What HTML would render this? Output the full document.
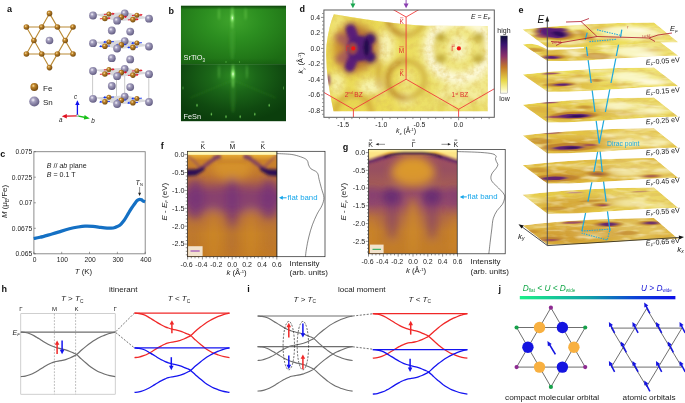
<!DOCTYPE html>
<html><head><meta charset="utf-8"><title>Figure</title>
<style>
html,body{margin:0;padding:0;background:#fff;}
body{width:685px;height:403px;overflow:hidden;font-family:"Liberation Sans",sans-serif;}
svg{display:block;}
svg text{font-family:"Liberation Sans",sans-serif;}
.lb{font-weight:bold;font-size:9px;fill:#111;}
.i{font-style:italic;}
</style></head><body>
<svg width="685" height="403" viewBox="0 0 685 403">
<rect width="685" height="403" fill="#fff"/>
<defs>
<radialGradient id="gFe" cx="0.38" cy="0.35" r="0.7"><stop offset="0" stop-color="#fbe6ae"/><stop offset="0.3" stop-color="#c0852a"/><stop offset="1" stop-color="#6c440c"/></radialGradient>
<radialGradient id="gSn" cx="0.38" cy="0.35" r="0.7"><stop offset="0" stop-color="#f6f4fb"/><stop offset="0.3" stop-color="#a5a0bf"/><stop offset="1" stop-color="#5e587e"/></radialGradient>
</defs>
<g id="panelA">
<text class="lb" x="7" y="11.6">a</text>
<g stroke-linecap="round">
<line x1="49.5" y1="13.4" x2="26.4" y2="54.0" stroke="#b98a35" stroke-width="1.10"/>
<line x1="49.5" y1="13.4" x2="73.0" y2="54.0" stroke="#b98a35" stroke-width="1.10"/>
<line x1="26.4" y1="54.0" x2="73.0" y2="54.0" stroke="#b98a35" stroke-width="1.10"/>
<line x1="49.5" y1="67.6" x2="26.4" y2="27.0" stroke="#b98a35" stroke-width="1.10"/>
<line x1="49.5" y1="67.6" x2="73.0" y2="27.0" stroke="#b98a35" stroke-width="1.10"/>
<line x1="26.4" y1="27.0" x2="73.0" y2="27.0" stroke="#b98a35" stroke-width="1.10"/>
</g>
<circle cx="49.5" cy="13.4" r="2.8" fill="url(#gFe)"/>
<circle cx="49.5" cy="67.6" r="2.8" fill="url(#gFe)"/>
<circle cx="26.4" cy="27.0" r="2.8" fill="url(#gFe)"/>
<circle cx="41.7" cy="27.0" r="2.8" fill="url(#gFe)"/>
<circle cx="57.4" cy="27.0" r="2.8" fill="url(#gFe)"/>
<circle cx="73.0" cy="27.0" r="2.8" fill="url(#gFe)"/>
<circle cx="26.4" cy="54.0" r="2.8" fill="url(#gFe)"/>
<circle cx="41.7" cy="54.0" r="2.8" fill="url(#gFe)"/>
<circle cx="57.4" cy="54.0" r="2.8" fill="url(#gFe)"/>
<circle cx="73.0" cy="54.0" r="2.8" fill="url(#gFe)"/>
<circle cx="33.9" cy="40.5" r="2.8" fill="url(#gFe)"/>
<circle cx="65.2" cy="40.5" r="2.8" fill="url(#gFe)"/>
<circle cx="49.5" cy="40.5" r="3.8" fill="url(#gSn)"/>
<circle cx="34.3" cy="87" r="3.9" fill="url(#gFe)"/>
<circle cx="34.3" cy="101.5" r="5.1" fill="url(#gSn)"/>
<text x="43" y="90.7" font-size="8" fill="#222">Fe</text>
<text x="43" y="105.2" font-size="8" fill="#222">Sn</text>
<g stroke-width="1.3" stroke-linecap="butt">
<line x1="77.4" y1="115.8" x2="77.4" y2="104" stroke="#1010ee"/><polygon points="77.4,100.2 75.2,105 79.6,105" fill="#1010ee"/>
<line x1="77.4" y1="115.8" x2="66" y2="116.1" stroke="#e01020"/><polygon points="61.8,116.2 66.8,114 66.8,118.4" fill="#e01020"/>
<line x1="77.4" y1="115.8" x2="85.5" y2="117.5" stroke="#18c018"/><polygon points="89.8,118.4 84.6,115.1 83.8,119.5" fill="#18c018"/>
</g>
<rect x="76.4" y="114.8" width="2" height="2" fill="#ddd" stroke="#888" stroke-width="0.3"/>
<text class="i" x="74" y="98.5" font-size="6.3" fill="#222">c</text>
<text class="i" x="59" y="122.3" font-size="6.3" fill="#222">a</text>
<text class="i" x="91.2" y="123" font-size="6.3" fill="#222">b</text>
<line x1="92.6" y1="71.5" x2="92.6" y2="98.5" stroke="#7a7a7a" stroke-width="0.4"/>
<line x1="116.5" y1="76.0" x2="116.5" y2="104.0" stroke="#7a7a7a" stroke-width="0.4"/>
<line x1="124.7" y1="69.0" x2="124.7" y2="96.5" stroke="#7a7a7a" stroke-width="0.4"/>
<line x1="148.8" y1="74.0" x2="148.8" y2="102.0" stroke="#7a7a7a" stroke-width="0.4"/>
<polygon points="94.0,14.3 126.0,12.0 150.0,18.0 117.0,21.5" fill="#d9d9dc"/>
<circle cx="124.7" cy="13.3" r="3.8" fill="url(#gSn)"/>
<line x1="103.9" y1="14.4" x2="113.1" y2="13.8" stroke="#e01020" stroke-width="0.9"/>
<polygon points="114.7,13.7 112.5,12.6 112.5,15.2" fill="#e01020"/>
<line x1="99.9" y1="18.8" x2="109.1" y2="18.2" stroke="#e01020" stroke-width="0.9"/>
<polygon points="110.7,18.1 108.5,17.0 108.5,19.6" fill="#e01020"/>
<line x1="116.3" y1="17.4" x2="125.5" y2="16.8" stroke="#e01020" stroke-width="0.9"/>
<polygon points="127.1,16.7 124.9,15.6 124.9,18.2" fill="#e01020"/>
<line x1="131.9" y1="15.5" x2="141.1" y2="14.9" stroke="#e01020" stroke-width="0.9"/>
<polygon points="142.7,14.8 140.5,13.7 140.5,16.3" fill="#e01020"/>
<line x1="127.9" y1="19.9" x2="137.1" y2="19.3" stroke="#e01020" stroke-width="0.9"/>
<polygon points="138.7,19.2 136.5,18.1 136.5,20.7" fill="#e01020"/>
<circle cx="108.9" cy="14.1" r="2.5" fill="url(#gFe)"/>
<circle cx="136.9" cy="15.2" r="2.5" fill="url(#gFe)"/>
<circle cx="93.0" cy="15.5" r="3.9" fill="url(#gSn)"/>
<circle cx="149.0" cy="18.7" r="3.9" fill="url(#gSn)"/>
<circle cx="121.3" cy="17.1" r="2.8" fill="url(#gFe)"/>
<circle cx="104.9" cy="18.5" r="2.8" fill="url(#gFe)"/>
<circle cx="132.9" cy="19.6" r="2.8" fill="url(#gFe)"/>
<circle cx="117.1" cy="20.7" r="3.9" fill="url(#gSn)"/>
<circle cx="111.8" cy="30.5" r="3.9" fill="url(#gSn)"/>
<circle cx="130.2" cy="31.6" r="3.9" fill="url(#gSn)"/>
<polygon points="94.0,42.0 126.0,39.8 150.0,45.8 117.0,49.2" fill="#d9d9dc"/>
<circle cx="124.7" cy="41.0" r="3.8" fill="url(#gSn)"/>
<line x1="113.9" y1="41.6" x2="104.7" y2="42.1" stroke="#1030ee" stroke-width="0.9"/>
<polygon points="103.1,42.2 105.3,40.4 105.3,43.0" fill="#1030ee"/>
<line x1="109.9" y1="46.0" x2="100.7" y2="46.5" stroke="#1030ee" stroke-width="0.9"/>
<polygon points="99.1,46.6 101.3,44.8 101.3,47.4" fill="#1030ee"/>
<line x1="126.3" y1="44.6" x2="117.1" y2="45.1" stroke="#1030ee" stroke-width="0.9"/>
<polygon points="115.5,45.2 117.7,43.4 117.7,46.0" fill="#1030ee"/>
<line x1="141.9" y1="42.7" x2="132.7" y2="43.2" stroke="#1030ee" stroke-width="0.9"/>
<polygon points="131.1,43.4 133.3,41.5 133.3,44.1" fill="#1030ee"/>
<line x1="137.9" y1="47.1" x2="128.7" y2="47.6" stroke="#1030ee" stroke-width="0.9"/>
<polygon points="127.1,47.8 129.3,45.9 129.3,48.5" fill="#1030ee"/>
<circle cx="108.9" cy="41.9" r="2.5" fill="url(#gFe)"/>
<circle cx="136.9" cy="43.0" r="2.5" fill="url(#gFe)"/>
<circle cx="93.0" cy="43.2" r="3.9" fill="url(#gSn)"/>
<circle cx="149.0" cy="46.5" r="3.9" fill="url(#gSn)"/>
<circle cx="121.3" cy="44.9" r="2.8" fill="url(#gFe)"/>
<circle cx="104.9" cy="46.2" r="2.8" fill="url(#gFe)"/>
<circle cx="132.9" cy="47.4" r="2.8" fill="url(#gFe)"/>
<circle cx="117.1" cy="48.5" r="3.9" fill="url(#gSn)"/>
<circle cx="111.8" cy="58.2" r="3.9" fill="url(#gSn)"/>
<circle cx="130.2" cy="59.4" r="3.9" fill="url(#gSn)"/>
<polygon points="94.0,69.8 126.0,67.5 150.0,73.5 117.0,77.0" fill="#d9d9dc"/>
<circle cx="124.7" cy="68.8" r="3.8" fill="url(#gSn)"/>
<line x1="103.9" y1="69.9" x2="113.1" y2="69.3" stroke="#e01020" stroke-width="0.9"/>
<polygon points="114.7,69.2 112.5,68.1 112.5,70.7" fill="#e01020"/>
<line x1="99.9" y1="74.3" x2="109.1" y2="73.7" stroke="#e01020" stroke-width="0.9"/>
<polygon points="110.7,73.6 108.5,72.5 108.5,75.1" fill="#e01020"/>
<line x1="116.3" y1="72.9" x2="125.5" y2="72.3" stroke="#e01020" stroke-width="0.9"/>
<polygon points="127.1,72.2 124.9,71.1 124.9,73.7" fill="#e01020"/>
<line x1="131.9" y1="71.0" x2="141.1" y2="70.4" stroke="#e01020" stroke-width="0.9"/>
<polygon points="142.7,70.3 140.5,69.2 140.5,71.8" fill="#e01020"/>
<line x1="127.9" y1="75.4" x2="137.1" y2="74.8" stroke="#e01020" stroke-width="0.9"/>
<polygon points="138.7,74.7 136.5,73.6 136.5,76.2" fill="#e01020"/>
<circle cx="108.9" cy="69.6" r="2.5" fill="url(#gFe)"/>
<circle cx="136.9" cy="70.7" r="2.5" fill="url(#gFe)"/>
<circle cx="93.0" cy="71.0" r="3.9" fill="url(#gSn)"/>
<circle cx="149.0" cy="74.2" r="3.9" fill="url(#gSn)"/>
<circle cx="121.3" cy="72.6" r="2.8" fill="url(#gFe)"/>
<circle cx="104.9" cy="74.0" r="2.8" fill="url(#gFe)"/>
<circle cx="132.9" cy="75.1" r="2.8" fill="url(#gFe)"/>
<circle cx="117.1" cy="76.2" r="3.9" fill="url(#gSn)"/>
<circle cx="111.8" cy="86.0" r="3.9" fill="url(#gSn)"/>
<circle cx="130.2" cy="87.1" r="3.9" fill="url(#gSn)"/>
<polygon points="94.0,97.5 126.0,95.2 150.0,101.2 117.0,104.8" fill="#d9d9dc"/>
<circle cx="124.7" cy="96.5" r="3.8" fill="url(#gSn)"/>
<line x1="113.9" y1="97.0" x2="104.7" y2="97.6" stroke="#1030ee" stroke-width="0.9"/>
<polygon points="103.1,97.8 105.3,95.8 105.3,98.4" fill="#1030ee"/>
<line x1="109.9" y1="101.5" x2="100.7" y2="102.0" stroke="#1030ee" stroke-width="0.9"/>
<polygon points="99.1,102.2 101.3,100.2 101.3,102.8" fill="#1030ee"/>
<line x1="126.3" y1="100.0" x2="117.1" y2="100.6" stroke="#1030ee" stroke-width="0.9"/>
<polygon points="115.5,100.8 117.7,98.8 117.7,101.4" fill="#1030ee"/>
<line x1="141.9" y1="98.2" x2="132.7" y2="98.8" stroke="#1030ee" stroke-width="0.9"/>
<polygon points="131.1,98.9 133.3,97.0 133.3,99.5" fill="#1030ee"/>
<line x1="137.9" y1="102.5" x2="128.7" y2="103.1" stroke="#1030ee" stroke-width="0.9"/>
<polygon points="127.1,103.2 129.3,101.3 129.3,103.9" fill="#1030ee"/>
<circle cx="108.9" cy="97.3" r="2.5" fill="url(#gFe)"/>
<circle cx="136.9" cy="98.5" r="2.5" fill="url(#gFe)"/>
<circle cx="93.0" cy="98.8" r="3.9" fill="url(#gSn)"/>
<circle cx="149.0" cy="102.0" r="3.9" fill="url(#gSn)"/>
<circle cx="121.3" cy="100.3" r="2.8" fill="url(#gFe)"/>
<circle cx="104.9" cy="101.8" r="2.8" fill="url(#gFe)"/>
<circle cx="132.9" cy="102.8" r="2.8" fill="url(#gFe)"/>
<circle cx="117.1" cy="104.0" r="3.9" fill="url(#gSn)"/>
</g>
<defs>
<radialGradient id="bTop" gradientUnits="userSpaceOnUse" cx="232.5" cy="20" r="62" gradientTransform="translate(232.5 20) scale(1.15 0.8) translate(-232.5 -20)"><stop offset="0" stop-color="#3fa42c"/><stop offset="0.4" stop-color="#2c8e20"/><stop offset="1" stop-color="#1c6c14"/></radialGradient>
<radialGradient id="bBot" gradientUnits="userSpaceOnUse" cx="233" cy="76" r="62" gradientTransform="translate(233 76) scale(1.1 0.75) translate(-233 -76)"><stop offset="0" stop-color="#2c8822"/><stop offset="0.35" stop-color="#1b6618"/><stop offset="0.75" stop-color="#104a10"/><stop offset="1" stop-color="#0b3e0c"/></radialGradient>
<radialGradient id="bSpot"><stop offset="0" stop-color="#f4fff0" stop-opacity="1"/><stop offset="0.3" stop-color="#9cf080" stop-opacity="0.9"/><stop offset="1" stop-color="#50c040" stop-opacity="0"/></radialGradient>
<radialGradient id="bSpot2"><stop offset="0" stop-color="#8fe070" stop-opacity="0.9"/><stop offset="1" stop-color="#50c040" stop-opacity="0"/></radialGradient>
<linearGradient id="bTopShade" x1="0" y1="0" x2="0" y2="1"><stop offset="0" stop-color="#062806" stop-opacity="0.75"/><stop offset="0.07" stop-color="#0a3a08" stop-opacity="0"/><stop offset="0.9" stop-color="#0a3a08" stop-opacity="0"/><stop offset="1" stop-color="#0a3a08" stop-opacity="0.2"/></linearGradient>
<clipPath id="bClip"><rect x="180.8" y="5.6" width="105.2" height="115.8"/></clipPath>
<filter id="blur1" x="-50%" y="-50%" width="200%" height="200%"><feGaussianBlur stdDeviation="0.8"/></filter>
<filter id="blur2" x="-50%" y="-50%" width="200%" height="200%"><feGaussianBlur stdDeviation="1.6"/></filter>
</defs>
<g id="panelB">
<text class="lb" x="168.4" y="13.6">b</text>
<g clip-path="url(#bClip)">
<rect x="180.8" y="5.6" width="105.2" height="58.5" fill="url(#bTop)"/>
<rect x="180.8" y="5.6" width="105.2" height="58.5" fill="url(#bTopShade)"/>
<rect x="180.8" y="64.1" width="105.2" height="57.3" fill="url(#bBot)"/>
<g filter="url(#blur1)">
<ellipse cx="232.3" cy="18" rx="1.4" ry="11" fill="#7fe060" opacity="0.8"/>
<ellipse cx="219" cy="14" rx="0.9" ry="6" fill="#6fd050" opacity="0.6"/>
<ellipse cx="245.6" cy="14" rx="0.9" ry="6" fill="#6fd050" opacity="0.6"/>
<ellipse cx="232.3" cy="40" rx="2.5" ry="20" fill="#4fb038" opacity="0.35"/>
</g>
<ellipse cx="232.3" cy="18" rx="2.8" ry="6" fill="url(#bSpot)"/>
<ellipse cx="226" cy="62" rx="1.2" ry="1" fill="url(#bSpot2)"/><ellipse cx="239.5" cy="62" rx="1.2" ry="1" fill="url(#bSpot2)"/>
<g filter="url(#blur1)">
<ellipse cx="233" cy="76" rx="1.5" ry="12" fill="#7fe060" opacity="0.75"/>
<ellipse cx="219" cy="72" rx="0.9" ry="7" fill="#5fc048" opacity="0.55"/>
<ellipse cx="246.9" cy="72" rx="0.9" ry="7" fill="#5fc048" opacity="0.55"/>
<path d="M233 80 L190 98 M233 80 L276 98" stroke="#3f9a30" stroke-width="1.2" opacity="0.28" fill="none"/>
<ellipse cx="233" cy="95" rx="2.5" ry="18" fill="#3f9a30" opacity="0.3"/>
</g>
<ellipse cx="233" cy="74" rx="3" ry="6.5" fill="url(#bSpot)"/>
<ellipse cx="197.0" cy="105.3" rx="1.3" ry="2.2" fill="url(#bSpot2)"/>
<ellipse cx="211.4" cy="114.2" rx="1.3" ry="2.2" fill="url(#bSpot2)"/>
<ellipse cx="226.0" cy="116.7" rx="1.3" ry="2.2" fill="url(#bSpot2)"/>
<ellipse cx="240.2" cy="116.7" rx="1.3" ry="2.2" fill="url(#bSpot2)"/>
<ellipse cx="254.8" cy="114.2" rx="1.3" ry="2.2" fill="url(#bSpot2)"/>
<ellipse cx="269.2" cy="105.3" rx="1.3" ry="2.2" fill="url(#bSpot2)"/>
<ellipse cx="183" cy="88" rx="1" ry="2.5" fill="url(#bSpot2)" opacity="0.6"/><ellipse cx="283.5" cy="88" rx="1" ry="2.5" fill="url(#bSpot2)" opacity="0.6"/>
</g>
<text x="183.6" y="60" font-size="7.3" fill="#f4f4f4">SrTiO<tspan font-size="4.5" dy="1.6">3</tspan></text>
<text x="183.6" y="119" font-size="7.3" fill="#f4f4f4">FeSn</text>
</g>
<g id="panelC">
<text class="lb" x="0.2" y="157.4">c</text>
<rect x="33.9" y="151.7" width="111.3" height="102.1" fill="#fff" stroke="#808080" stroke-width="0.9"/>
<path d="M33.9,151.7h2M33.9,253.8v-2M33.9,177.2h2M61.7,253.8v-2M33.9,202.8h2M89.5,253.8v-2M33.9,228.3h2M117.4,253.8v-2M33.9,253.8h2M145.2,253.8v-2" stroke="#444" stroke-width="0.5" fill="none"/>
<text x="32.3" y="154.1" font-size="6.7" text-anchor="end" fill="#222">0.075</text>
<text x="32.3" y="179.6" font-size="6.7" text-anchor="end" fill="#222">0.0725</text>
<text x="32.3" y="205.2" font-size="6.7" text-anchor="end" fill="#222">0.07</text>
<text x="32.3" y="230.7" font-size="6.7" text-anchor="end" fill="#222">0.0675</text>
<text x="32.3" y="256.2" font-size="6.7" text-anchor="end" fill="#222">0.065</text>
<text x="34.5" y="262.4" font-size="6.7" text-anchor="middle" fill="#222">0</text>
<text x="62.3" y="262.4" font-size="6.7" text-anchor="middle" fill="#222">100</text>
<text x="90.1" y="262.4" font-size="6.7" text-anchor="middle" fill="#222">200</text>
<text x="118.0" y="262.4" font-size="6.7" text-anchor="middle" fill="#222">300</text>
<text x="145.8" y="262.4" font-size="6.7" text-anchor="middle" fill="#222">400</text>
<text x="83.5" y="274" font-size="7.8" text-anchor="middle" fill="#222"><tspan class="i">T</tspan> (K)</text>
<text transform="translate(7.2,201.5) rotate(-90)" font-size="7.9" text-anchor="middle" fill="#222"><tspan class="i">M</tspan> (μ<tspan font-size="4.6" dy="1.5">B</tspan><tspan dy="-1.5">/Fe)</tspan></text>
<text x="46.8" y="167.6" font-size="7.1" fill="#222"><tspan class="i">B</tspan> // <tspan class="i">ab</tspan> plane</text>
<text x="46.8" y="176.5" font-size="7.1" fill="#222"><tspan class="i">B</tspan> = 0.1 T</text>
<path d="M33.7,238.5C34.8,238.3 37.0,238.1 40.0,237.3C43.0,236.6 48.7,234.9 52.0,234.0C55.3,233.1 57.1,232.5 60.0,231.6C62.9,230.7 66.4,229.6 69.4,228.8C72.4,228.0 75.4,227.4 78.0,227.0C80.6,226.6 82.5,226.3 85.0,226.2C87.5,226.1 90.4,226.2 93.0,226.4C95.6,226.6 98.4,227.1 100.7,227.4C103.0,227.7 105.3,228.0 107.0,228.1C108.7,228.2 109.7,228.2 111.0,228.1C112.3,228.0 113.5,227.9 115.0,227.4C116.5,226.9 118.3,226.5 119.8,225.3C121.3,224.2 122.5,222.5 124.0,220.5C125.5,218.5 127.2,215.3 128.5,213.1C129.8,210.9 130.8,209.2 132.0,207.5C133.2,205.8 134.5,203.9 135.4,202.7C136.3,201.5 136.8,200.9 137.5,200.3C138.2,199.7 138.9,199.4 139.6,199.3C140.3,199.2 140.9,199.5 141.5,199.8C142.1,200.1 142.4,200.7 143.0,201.0C143.6,201.3 144.8,201.6 145.1,201.7" stroke="#1470c4" stroke-width="3.2" fill="none" stroke-linecap="butt"/>
<text x="135.6" y="184.6" font-size="7" fill="#222"><tspan class="i">T</tspan><tspan font-size="4" dy="1.4">N</tspan></text>
<line x1="139.6" y1="187" x2="139.6" y2="194" stroke="#222" stroke-width="0.5"/><polygon points="139.6,196 138.1,192.8 141.1,192.8" fill="#222"/>
</g>
<defs>
<clipPath id="dClip"><path d="M333.9,14.2 Q329,25 326.5,45 Q324.5,70 333.5,111.2 L487.7,111.2 L487.7,25.9 L425,25.7 Q395,24.5 333.9,14.2 Z"/></clipPath>
<clipPath id="dBox"><rect x="323.9" y="10" width="170.4" height="107.3"/></clipPath>
<filter id="dB1" x="-30%" y="-30%" width="160%" height="160%"><feGaussianBlur stdDeviation="1.6"/></filter>
<filter id="dB2" x="-30%" y="-30%" width="160%" height="160%"><feGaussianBlur stdDeviation="2.5"/></filter>
<filter id="dB4" x="-30%" y="-30%" width="160%" height="160%"><feGaussianBlur stdDeviation="4.5"/></filter>
<filter id="dNoise" x="0" y="0" width="100%" height="100%"><feTurbulence type="fractalNoise" baseFrequency="0.16" numOctaves="3" seed="11"/><feColorMatrix type="matrix" values="0 0 0 0 0.72  0 0 0 0 0.52  0 0 0 0 0.1  0 0 0 2.2 -0.95"/></filter>
<linearGradient id="cbar" x1="0" y1="0" x2="0" y2="1"><stop offset="0" stop-color="#0c0c38"/><stop offset="0.15" stop-color="#3a1470"/><stop offset="0.35" stop-color="#8a2f6a"/><stop offset="0.55" stop-color="#c47a28"/><stop offset="0.78" stop-color="#e8d848"/><stop offset="0.92" stop-color="#f8f4a8"/><stop offset="1" stop-color="#fffff0"/></linearGradient>
<linearGradient id="dBase" x1="0" y1="0" x2="1" y2="0"><stop offset="0" stop-color="#e9d74e"/><stop offset="0.45" stop-color="#ebdb58"/><stop offset="0.62" stop-color="#ece068"/><stop offset="1" stop-color="#ede270"/></linearGradient>
</defs>
<g id="panelD">
<text class="lb" x="299.5" y="11.6">d</text>
<g clip-path="url(#dClip)">
<rect x="320" y="10" width="170" height="105" fill="url(#dBase)"/>
<g filter="url(#dB4)">
<circle cx="459" cy="49" r="29.5" fill="none" stroke="#fffde6" stroke-width="12" opacity="1"/>
<ellipse cx="459" cy="48" rx="11" ry="14" fill="#faf7c8" opacity="0.9"/>
<ellipse cx="459" cy="96" rx="24" ry="9" fill="#f8f3b4" opacity="0.8"/>
<ellipse cx="484" cy="90" rx="6" ry="14" fill="#f3eb98" opacity="0.7"/>
<ellipse cx="372" cy="87" rx="15" ry="8" fill="#f8f4b4"/>
<ellipse cx="337" cy="84" rx="7" ry="13" fill="#f7f2ac"/>
<ellipse cx="386" cy="47" rx="8" ry="17" fill="#f9f5bc"/>
<ellipse cx="338" cy="23" rx="7" ry="7" fill="#f6f0a4"/>
<ellipse cx="406" cy="99" rx="9" ry="6" fill="#f8f3b0"/>
<ellipse cx="406" cy="30" rx="5" ry="4" fill="#f8f3b0" opacity="0.8"/>
<ellipse cx="406" cy="79" rx="7" ry="7" fill="#f4eca0" opacity="0.8"/>
<ellipse cx="335" cy="30" rx="8" ry="12" fill="#f0e474"/>
</g>
<g filter="url(#dB2)" fill="none">
<path d="M406.1,61.1 A18.5,18.5 0 0 0 406.1,98.1" stroke="#b8822a" stroke-width="5" opacity="0.9"/>
<path d="M406.1,61.1 A18.5,18.5 0 0 1 406.1,98.1" stroke="#c8a434" stroke-width="4.5" opacity="0.8"/>
<path d="M406.1,-2.0 A18.5,18.5 0 0 0 406.1,35.0" stroke="#b8822a" stroke-width="5" opacity="0.9"/>
<path d="M406.1,-2.0 A18.5,18.5 0 0 1 406.1,35.0" stroke="#c8a434" stroke-width="4.5" opacity="0.8"/>
<circle cx="353.4" cy="113" r="18" stroke="#c8962c" stroke-width="4.5" opacity="0.75"/>
<circle cx="458.6" cy="114" r="18" stroke="#d8c040" stroke-width="4" opacity="0.6"/>
<path d="M380,62 Q376,75 381,88" stroke="#c08c2c" stroke-width="5" opacity="0.6"/>
<path d="M388,86 Q380,98 362,101" stroke="#d4ae38" stroke-width="3.5" opacity="0.5"/>
<path d="M424,90 Q432,101 445,105" stroke="#dcc448" stroke-width="3.5" opacity="0.55"/>
</g>
<rect x="322" y="10" width="168" height="104" filter="url(#dNoise)" opacity="0.55"/>
<g filter="url(#dB4)">
<ellipse cx="354" cy="48" rx="21" ry="25" fill="#c88a2c" opacity="0.95"/>
<ellipse cx="362" cy="48" rx="16" ry="20" fill="#b06a38" opacity="0.8"/>
</g>
<g filter="url(#dB2)" stroke-linecap="round" fill="none">
<line x1="356" y1="48.4" x2="350.5" y2="28.5" stroke="#5a1c78" stroke-width="10" opacity="0.90"/>
<line x1="356" y1="48.4" x2="371.0" y2="38.5" stroke="#43156c" stroke-width="10" opacity="0.90"/>
<line x1="356" y1="48.4" x2="371.0" y2="57.5" stroke="#43156c" stroke-width="10" opacity="0.90"/>
<line x1="356" y1="48.4" x2="349.5" y2="67.5" stroke="#5a1c78" stroke-width="10" opacity="0.90"/>
<line x1="356" y1="48.4" x2="340.5" y2="38.0" stroke="#9a4868" stroke-width="10" opacity="0.63"/>
<line x1="356" y1="48.4" x2="340.5" y2="59.0" stroke="#9a4868" stroke-width="10" opacity="0.63"/>
</g>
<g filter="url(#dB1)" stroke-linecap="round" fill="none">
<line x1="358" y1="48.4" x2="350.9" y2="30.1" stroke="#5a1c78" stroke-width="8" opacity="1.00"/>
<line x1="358" y1="48.4" x2="369.8" y2="39.3" stroke="#43156c" stroke-width="8" opacity="1.00"/>
<line x1="358" y1="48.4" x2="369.8" y2="56.8" stroke="#43156c" stroke-width="8" opacity="1.00"/>
<line x1="358" y1="48.4" x2="350.0" y2="66.0" stroke="#5a1c78" stroke-width="8" opacity="1.00"/>
<circle cx="359.5" cy="48.4" r="12.5" fill="#521a74"/>
<ellipse cx="366.5" cy="47.5" rx="3.2" ry="9" fill="#1c0c48" opacity="0.9"/>
<ellipse cx="352.5" cy="48.6" rx="5" ry="6" fill="#a8503c" opacity="0.85"/>
<ellipse cx="328.3" cy="80" rx="2" ry="6" fill="#7a2a78" opacity="0.8"/>
</g>
<g filter="url(#dB2)">
<ellipse cx="440.5" cy="37.5" rx="5.5" ry="4.2" fill="#b8a02c" opacity="0.9"/>
<ellipse cx="478.7" cy="37.5" rx="5.5" ry="4.2" fill="#b8a02c" opacity="0.9"/>
<ellipse cx="440.5" cy="58.5" rx="5.5" ry="4.2" fill="#b8a02c" opacity="0.9"/>
<ellipse cx="478.7" cy="58.5" rx="5.5" ry="4.2" fill="#b8a02c" opacity="0.9"/>
<path d="M438,38 Q435,48 438,58 M481,38 Q484,48 481,58" stroke="#d8c444" stroke-width="4" fill="none" opacity="0.7"/>
</g>
</g>
<g clip-path="url(#dBox)" stroke="#f03a3a" stroke-width="0.9" fill="none">
<path d="M353.4,117.3 L353.4,109.3 L300.7,79.2 M353.4,109.3 L406.1,79.2 L406.1,17 L380,2 M406.1,17 L432,2 M406.1,79.2 L458.6,109.3 L458.6,117.3 M458.6,109.3 L511,79.2"/>
</g>
<circle cx="353.3" cy="48.4" r="2.1" fill="#f01414"/><circle cx="458.9" cy="48.4" r="2.1" fill="#f01414"/>
<text x="345.8" y="50.8" font-size="6.5" fill="#e03030">Γ</text><line x1="346.2" y1="45.1" x2="349.6" y2="45.1" stroke="#e03030" stroke-width="0.5"/>
<text x="451.2" y="50.8" font-size="6.5" fill="#e03030">Γ</text><line x1="451.6" y1="45.1" x2="455.0" y2="45.1" stroke="#e03030" stroke-width="0.5"/>
<text x="399.6" y="23.5" font-size="6.5" fill="#e03030">K</text><line x1="400.0" y1="17.8" x2="403.4" y2="17.8" stroke="#e03030" stroke-width="0.5"/>
<text x="398.8" y="52.5" font-size="6.5" fill="#e03030">M</text><line x1="399.2" y1="46.8" x2="403.8" y2="46.8" stroke="#e03030" stroke-width="0.5"/>
<text x="399.6" y="75.5" font-size="6.5" fill="#e03030">K</text><line x1="400.0" y1="69.8" x2="403.4" y2="69.8" stroke="#e03030" stroke-width="0.5"/>
<text x="344.7" y="96.6" font-size="6.5" fill="#e03030">2<tspan font-size="3.8" dy="-2.4">nd</tspan><tspan dy="2.4"> BZ</tspan></text>
<text x="451.6" y="97.2" font-size="6.5" fill="#e03030">1<tspan font-size="3.8" dy="-2.4">st</tspan><tspan dy="2.4"> BZ</tspan></text>
<text x="471" y="18.9" font-size="6.8" fill="#222" class="i">E = E<tspan font-size="4.2" dy="1.5">F</tspan></text>
<rect x="323.9" y="10" width="170.4" height="107.3" fill="none" stroke="#5a5a5a" stroke-width="1"/>
<path d="M323.4,114.3h-1.3M323.4,110.4h-2.4M323.4,106.5h-1.3M323.4,102.6h-1.3M323.4,98.8h-1.3M323.4,94.9h-2.4M323.4,91.0h-1.3M323.4,87.1h-1.3M323.4,83.3h-1.3M323.4,79.4h-2.4M323.4,75.5h-1.3M323.4,71.6h-1.3M323.4,67.8h-1.3M323.4,63.9h-2.4M323.4,60.0h-1.3M323.4,56.1h-1.3M323.4,52.3h-1.3M323.4,48.4h-2.4M323.4,44.5h-1.3M323.4,40.6h-1.3M323.4,36.8h-1.3M323.4,32.9h-2.4M323.4,29.0h-1.3M323.4,25.1h-1.3M323.4,21.3h-1.3M323.4,17.4h-2.4M323.4,13.5h-1.3M329.1,117.8v1.3M336.7,117.8v1.3M344.3,117.8v2.4M351.9,117.8v1.3M359.5,117.8v1.3M367.2,117.8v1.3M374.8,117.8v1.3M382.4,117.8v2.4M390.0,117.8v1.3M397.6,117.8v1.3M405.3,117.8v1.3M412.9,117.8v1.3M420.5,117.8v2.4M428.1,117.8v1.3M435.7,117.8v1.3M443.4,117.8v1.3M451.0,117.8v1.3M458.6,117.8v2.4M466.2,117.8v1.3M473.8,117.8v1.3M481.5,117.8v1.3M489.1,117.8v1.3" stroke="#333" stroke-width="0.55" fill="none"/>
<text x="320.2" y="19.8" font-size="6.9" text-anchor="end" fill="#222">0.4</text>
<text x="320.2" y="35.3" font-size="6.9" text-anchor="end" fill="#222">0.2</text>
<text x="320.2" y="50.8" font-size="6.9" text-anchor="end" fill="#222">0.0</text>
<text x="320.2" y="66.3" font-size="6.9" text-anchor="end" fill="#222">-0.2</text>
<text x="320.2" y="81.8" font-size="6.9" text-anchor="end" fill="#222">-0.4</text>
<text x="320.2" y="97.3" font-size="6.9" text-anchor="end" fill="#222">-0.6</text>
<text x="320.2" y="112.8" font-size="6.9" text-anchor="end" fill="#222">-0.8</text>
<text x="343.2" y="127.4" font-size="6.9" text-anchor="middle" fill="#222">-1.5</text>
<text x="381.3" y="127.4" font-size="6.9" text-anchor="middle" fill="#222">-1.0</text>
<text x="419.4" y="127.4" font-size="6.9" text-anchor="middle" fill="#222">-0.5</text>
<text x="458.6" y="127.4" font-size="6.9" text-anchor="middle" fill="#222">0.0</text>
<text x="406" y="133.3" font-size="6.9" text-anchor="middle" fill="#222"><tspan class="i">k</tspan><tspan font-size="4.3" dy="1.3" class="i">x</tspan><tspan dy="-1.3"> (Å</tspan><tspan font-size="3.8" dy="-2.2">-1</tspan><tspan dy="2.2">)</tspan></text>
<text transform="translate(303.4,62.9) rotate(-90)" font-size="7.3" text-anchor="middle" fill="#222"><tspan class="i">k</tspan><tspan font-size="4.3" dy="1.3" class="i">y</tspan><tspan dy="-1.3"> (Å</tspan><tspan font-size="3.8" dy="-2.2">-1</tspan><tspan dy="2.2">)</tspan></text>
<line x1="352.9" y1="0" x2="352.9" y2="5" stroke="#1aa650" stroke-width="0.9"/><polygon points="352.9,8.2 350.4,3.6 355.4,3.6" fill="#1aa650"/>
<line x1="406.1" y1="0" x2="406.1" y2="5" stroke="#8a3fb0" stroke-width="0.9"/><polygon points="406.1,8.2 403.6,3.6 408.6,3.6" fill="#8a3fb0"/>
<rect x="500.5" y="35.9" width="7" height="57.2" fill="url(#cbar)" stroke="#777" stroke-width="0.4"/>
<text x="497.3" y="32.9" font-size="7" fill="#222">high</text>
<text x="499.2" y="101.3" font-size="7" fill="#222">low</text>
</g>
<defs>
<filter id="eB1" x="-30%" y="-30%" width="160%" height="160%"><feGaussianBlur stdDeviation="0.022"/></filter>
<filter id="eB3" x="-40%" y="-40%" width="180%" height="180%"><feGaussianBlur stdDeviation="0.09"/></filter>
<filter id="eNoise" x="0" y="0" width="100%" height="100%"><feTurbulence type="fractalNoise" baseFrequency="0.07 0.3" numOctaves="3" seed="5"/><feColorMatrix type="matrix" values="0 0 0 0 0.7  0 0 0 0 0.46  0 0 0 0 0.1  0 0 0 2.4 -1.0"/></filter>
<filter id="eNoise2" x="0" y="0" width="100%" height="100%"><feTurbulence type="fractalNoise" baseFrequency="0.06 0.25" numOctaves="2" seed="23"/><feColorMatrix type="matrix" values="0 0 0 0 1  0 0 0 0 0.98  0 0 0 0 0.8  0 0 0 2.4 -1.15"/></filter>
<filter id="eB2" x="-30%" y="-30%" width="160%" height="160%"><feGaussianBlur stdDeviation="0.05"/></filter>
</defs>
<g id="panelE">
<text class="lb" x="518.5" y="13.2" font-size="8.5">e</text>
<clipPath id="eC7"><path d="M522.6,225.4 Q580.3,218.5 654.0,218.0 L678.3,238.9 C630.3,239.3 595.4,245.1 547.4,244.7 Z"/></clipPath>
<g clip-path="url(#eC7)">
<path d="M522.6,225.4 Q580.3,218.5 654.0,218.0 L678.3,238.9 C630.3,239.3 595.4,245.1 547.4,244.7 Z" fill="#dcb23a"/>
<g transform="matrix(131.40,-7.40,24.80,19.30,522.60,225.40)" filter="url(#eB3)">
<ellipse cx="0.2" cy="0.62" rx="0.2" ry="0.42" fill="#cc922e" opacity="0.60"/>
<ellipse cx="0.78" cy="0.5" rx="0.24" ry="0.5" fill="#f9f6c0" opacity="0.25"/>
<ellipse cx="0.5" cy="0.55" rx="0.16" ry="0.35" fill="#c4882c" opacity="0.40"/>
</g>
<rect x="520" y="215.4" width="162" height="34" filter="url(#eNoise)" opacity="0.55"/>
<rect x="520" y="215.4" width="162" height="34" filter="url(#eNoise2)" opacity="0.6"/>
<g transform="matrix(131.40,-7.40,24.80,19.30,522.60,225.40)" filter="url(#eB2)">
<ellipse cx="0.391" cy="0.647" rx="0.088" ry="0.162" fill="#fbf8cc" opacity="0.40"/>
<ellipse cx="0.078" cy="0.087" rx="0.044" ry="0.097" fill="#fbf8cc" opacity="0.50"/>
<ellipse cx="0.878" cy="0.886" rx="0.070" ry="0.130" fill="#d8a634" opacity="0.50"/>
<ellipse cx="0.375" cy="0.330" rx="0.070" ry="0.130" fill="#d8a634" opacity="0.40"/>
</g>
<g transform="matrix(131.40,-7.40,24.80,19.30,522.60,225.40)" filter="url(#eB1)">
<ellipse cx="0.615" cy="0.184" rx="0.105" ry="0.145" fill="#bc7e2a" opacity="0.90"/>
<ellipse cx="0.619" cy="0.185" rx="0.070" ry="0.089" fill="#5a1c78" opacity="0.90"/>
<ellipse cx="0.924" cy="0.240" rx="0.088" ry="0.121" fill="#bc7e2a" opacity="0.80"/>
<ellipse cx="0.933" cy="0.233" rx="0.057" ry="0.073" fill="#5a1c78" opacity="0.80"/>
<ellipse cx="0.383" cy="0.002" rx="0.079" ry="0.057" fill="#8a3070" opacity="0.75"/>
<ellipse cx="0.068" cy="0.731" rx="0.096" ry="0.121" fill="#bc7e2a" opacity="0.80"/>
<ellipse cx="0.068" cy="0.783" rx="0.053" ry="0.061" fill="#8a3070" opacity="0.60"/>
<ellipse cx="0.004" cy="0.318" rx="0.053" ry="0.101" fill="#bc7e2a" opacity="0.60"/>
<ellipse cx="0.677" cy="0.653" rx="0.079" ry="0.101" fill="#bc7e2a" opacity="0.60"/>
</g>
</g>
<path d="M581.9,231.0L587.9,201.6M610.0,231.0L606.2,201.6" stroke="#1fa8dc" stroke-width="1.25" fill="none"/>
<path d="M581.7,231 L610,229.2 L607.3,240 L581.7,233.2" stroke="#1fa8dc" stroke-width="1.1" stroke-dasharray="1.4,1.1" fill="none"/>
<clipPath id="eC6"><path d="M522.6,194.8 Q580.3,187.9 654.0,187.5 L678.3,207.9 C630.3,208.3 595.4,214.1 547.4,213.7 Z"/></clipPath>
<g clip-path="url(#eC6)">
<path d="M522.6,194.8 Q580.3,187.9 654.0,187.5 L678.3,207.9 C630.3,208.3 595.4,214.1 547.4,213.7 Z" fill="#e6cc48"/>
<g transform="matrix(131.40,-7.34,24.80,18.87,522.60,194.80)" filter="url(#eB3)">
<ellipse cx="0.2" cy="0.62" rx="0.2" ry="0.42" fill="#cc922e" opacity="0.57"/>
<ellipse cx="0.78" cy="0.5" rx="0.24" ry="0.5" fill="#f9f6c0" opacity="0.29"/>
<ellipse cx="0.5" cy="0.55" rx="0.16" ry="0.35" fill="#c4882c" opacity="0.39"/>
</g>
<rect x="520" y="184.8" width="162" height="34" filter="url(#eNoise)" opacity="0.55"/>
<rect x="520" y="184.8" width="162" height="34" filter="url(#eNoise2)" opacity="0.6"/>
<g transform="matrix(131.40,-7.34,24.80,18.87,522.60,194.80)" filter="url(#eB2)">
<ellipse cx="0.039" cy="0.291" rx="0.061" ry="0.199" fill="#fbf8cc" opacity="0.50"/>
<ellipse cx="0.685" cy="0.701" rx="0.123" ry="0.199" fill="#fbf8cc" opacity="0.55"/>
<ellipse cx="0.870" cy="0.932" rx="0.070" ry="0.132" fill="#fbf8cc" opacity="0.60"/>
<ellipse cx="0.211" cy="0.994" rx="0.088" ry="0.099" fill="#d8a634" opacity="0.50"/>
</g>
<g transform="matrix(131.40,-7.34,24.80,18.87,522.60,194.80)" filter="url(#eB1)">
<ellipse cx="0.463" cy="0.710" rx="0.061" ry="0.091" fill="#bc7e2a" opacity="0.90"/>
<ellipse cx="0.473" cy="0.735" rx="0.031" ry="0.050" fill="#8a3070" opacity="0.80"/>
<ellipse cx="0.420" cy="0.492" rx="0.079" ry="0.062" fill="#bc7e2a" opacity="0.60"/>
<ellipse cx="0.099" cy="0.765" rx="0.088" ry="0.103" fill="#bc7e2a" opacity="0.60"/>
<ellipse cx="0.392" cy="0.036" rx="0.061" ry="0.041" fill="#8a3070" opacity="0.45"/>
<ellipse cx="0.862" cy="0.166" rx="0.061" ry="0.041" fill="#8a3070" opacity="0.40"/>
</g>
</g>
<path d="M587.9,201.6L593.9,172.0M606.2,201.6L602.3,172.0" stroke="#1fa8dc" stroke-width="1.25" fill="none"/>
<clipPath id="eC5"><path d="M522.6,165.2 Q580.3,158.4 654.0,157.9 L678.3,178.0 C630.3,178.4 595.4,184.0 547.4,183.6 Z"/></clipPath>
<g clip-path="url(#eC5)">
<path d="M522.6,165.2 Q580.3,158.4 654.0,157.9 L678.3,178.0 C630.3,178.4 595.4,184.0 547.4,183.6 Z" fill="#e2c040"/>
<g transform="matrix(131.40,-7.29,24.80,18.44,522.60,165.20)" filter="url(#eB3)">
<ellipse cx="0.2" cy="0.62" rx="0.2" ry="0.42" fill="#cc922e" opacity="0.54"/>
<ellipse cx="0.78" cy="0.5" rx="0.24" ry="0.5" fill="#f9f6c0" opacity="0.34"/>
<ellipse cx="0.5" cy="0.55" rx="0.16" ry="0.35" fill="#c4882c" opacity="0.37"/>
</g>
<rect x="520" y="155.2" width="162" height="34" filter="url(#eNoise)" opacity="0.55"/>
<rect x="520" y="155.2" width="162" height="34" filter="url(#eNoise2)" opacity="0.6"/>
<g transform="matrix(131.40,-7.29,24.80,18.44,522.60,165.20)" filter="url(#eB2)">
<ellipse cx="0.660" cy="0.630" rx="0.105" ry="0.203" fill="#fbf8cc" opacity="0.60"/>
<ellipse cx="0.399" cy="0.201" rx="0.088" ry="0.102" fill="#fbf8cc" opacity="0.45"/>
<ellipse cx="0.953" cy="0.691" rx="0.053" ry="0.136" fill="#fbf8cc" opacity="0.70"/>
<ellipse cx="0.539" cy="1.070" rx="0.088" ry="0.102" fill="#d8a634" opacity="0.50"/>
</g>
<g transform="matrix(131.40,-7.29,24.80,18.44,522.60,165.20)" filter="url(#eB1)">
<ellipse cx="0.115" cy="0.739" rx="0.175" ry="0.190" fill="#bc7e2a" opacity="0.85"/>
<ellipse cx="0.098" cy="0.749" rx="0.096" ry="0.093" fill="#5a1c78" opacity="0.90"/>
<ellipse cx="0.450" cy="0.655" rx="0.044" ry="0.085" fill="#5a1c78" opacity="0.95"/>
<ellipse cx="0.450" cy="0.655" rx="0.079" ry="0.148" fill="#bc7e2a" opacity="0.70"/>
<ellipse cx="0.805" cy="0.914" rx="0.053" ry="0.063" fill="#8a3070" opacity="0.85"/>
<ellipse cx="0.807" cy="0.904" rx="0.088" ry="0.106" fill="#bc7e2a" opacity="0.50"/>
<ellipse cx="0.063" cy="0.285" rx="0.070" ry="0.127" fill="#bc7e2a" opacity="0.50"/>
</g>
</g>
<path d="M593.9,172.0L599.2,143.5M602.3,172.0L599.3,143.5" stroke="#1fa8dc" stroke-width="1.25" fill="none"/>
<clipPath id="eC4"><path d="M522.6,135.4 Q580.3,128.6 654.0,128.2 L678.3,147.8 C630.3,148.2 595.4,153.8 547.4,153.4 Z"/></clipPath>
<g clip-path="url(#eC4)">
<path d="M522.6,135.4 Q580.3,128.6 654.0,128.2 L678.3,147.8 C630.3,148.2 595.4,153.8 547.4,153.4 Z" fill="#e4c444"/>
<g transform="matrix(131.40,-7.23,24.80,18.01,522.60,135.40)" filter="url(#eB3)">
<ellipse cx="0.2" cy="0.62" rx="0.2" ry="0.42" fill="#cc922e" opacity="0.51"/>
<ellipse cx="0.78" cy="0.5" rx="0.24" ry="0.5" fill="#f9f6c0" opacity="0.38"/>
<ellipse cx="0.5" cy="0.55" rx="0.16" ry="0.35" fill="#c4882c" opacity="0.36"/>
</g>
<rect x="520" y="125.4" width="162" height="34" filter="url(#eNoise)" opacity="0.55"/>
<rect x="520" y="125.4" width="162" height="34" filter="url(#eNoise2)" opacity="0.6"/>
<g transform="matrix(131.40,-7.23,24.80,18.01,522.60,135.40)" filter="url(#eB2)">
<ellipse cx="0.670" cy="0.691" rx="0.123" ry="0.208" fill="#fbf8cc" opacity="0.75"/>
<ellipse cx="0.901" cy="0.728" rx="0.070" ry="0.173" fill="#fbf8cc" opacity="0.80"/>
<ellipse cx="0.622" cy="0.227" rx="0.105" ry="0.104" fill="#fbf8cc" opacity="0.50"/>
<ellipse cx="0.688" cy="1.087" rx="0.088" ry="0.104" fill="#d8a634" opacity="0.50"/>
</g>
<g transform="matrix(131.40,-7.23,24.80,18.01,522.60,135.40)" filter="url(#eB1)">
<ellipse cx="0.222" cy="0.733" rx="0.210" ry="0.216" fill="#bc7e2a" opacity="0.85"/>
<ellipse cx="0.201" cy="0.764" rx="0.114" ry="0.104" fill="#5a1c78" opacity="0.95"/>
<ellipse cx="0.229" cy="0.780" rx="0.053" ry="0.056" fill="#2a1058" opacity="0.80"/>
<ellipse cx="0.383" cy="0.687" rx="0.053" ry="0.065" fill="#8a3070" opacity="0.60"/>
<ellipse cx="0.069" cy="0.338" rx="0.079" ry="0.173" fill="#bc7e2a" opacity="0.55"/>
<ellipse cx="0.231" cy="-0.040" rx="0.070" ry="0.052" fill="#8a3070" opacity="0.60"/>
</g>
</g>
<path d="M599.2,143.5L595.0,112.0M599.3,143.5L605.4,112.0" stroke="#1fa8dc" stroke-width="1.25" fill="none"/>
<clipPath id="eC3"><path d="M522.6,104.8 Q580.3,98.0 654.0,97.6 L678.3,116.8 C630.3,117.2 595.4,122.8 547.4,122.4 Z"/></clipPath>
<g clip-path="url(#eC3)">
<path d="M522.6,104.8 Q580.3,98.0 654.0,97.6 L678.3,116.8 C630.3,117.2 595.4,122.8 547.4,122.4 Z" fill="#e8d24c"/>
<g transform="matrix(131.40,-7.17,24.80,17.59,522.60,104.80)" filter="url(#eB3)">
<ellipse cx="0.2" cy="0.62" rx="0.2" ry="0.42" fill="#cc922e" opacity="0.47"/>
<ellipse cx="0.78" cy="0.5" rx="0.24" ry="0.5" fill="#f9f6c0" opacity="0.42"/>
<ellipse cx="0.5" cy="0.55" rx="0.16" ry="0.35" fill="#c4882c" opacity="0.34"/>
</g>
<rect x="520" y="94.8" width="162" height="34" filter="url(#eNoise)" opacity="0.55"/>
<rect x="520" y="94.8" width="162" height="34" filter="url(#eNoise2)" opacity="0.6"/>
<g transform="matrix(131.40,-7.17,24.80,17.59,522.60,104.80)" filter="url(#eB2)">
<ellipse cx="0.053" cy="0.260" rx="0.061" ry="0.213" fill="#d8a634" opacity="0.65"/>
<ellipse cx="0.645" cy="0.331" rx="0.123" ry="0.213" fill="#fbf8cc" opacity="0.85"/>
<ellipse cx="0.853" cy="0.700" rx="0.105" ry="0.178" fill="#fbf8cc" opacity="0.80"/>
<ellipse cx="0.590" cy="-0.004" rx="0.105" ry="0.092" fill="#fbf8cc" opacity="0.60"/>
<ellipse cx="0.667" cy="0.795" rx="0.088" ry="0.107" fill="#d8a634" opacity="0.40"/>
</g>
<g transform="matrix(131.40,-7.17,24.80,17.59,522.60,104.80)" filter="url(#eB1)">
<ellipse cx="0.257" cy="0.713" rx="0.175" ry="0.200" fill="#bc7e2a" opacity="0.90"/>
<ellipse cx="0.252" cy="0.739" rx="0.123" ry="0.115" fill="#5a1c78" opacity="0.95"/>
<ellipse cx="0.271" cy="0.759" rx="0.061" ry="0.067" fill="#2a1058" opacity="0.95"/>
<ellipse cx="0.093" cy="0.732" rx="0.044" ry="0.067" fill="#8a3070" opacity="0.70"/>
<ellipse cx="0.213" cy="-0.038" rx="0.061" ry="0.049" fill="#8a3070" opacity="0.80"/>
<ellipse cx="0.419" cy="0.296" rx="0.053" ry="0.089" fill="#bc7e2a" opacity="0.60"/>
</g>
</g>
<path d="M595.0,112.0L591.2,83.0M605.4,112.0L611.0,83.0" stroke="#1fa8dc" stroke-width="1.25" fill="none"/>
<clipPath id="eC2"><path d="M522.6,74.6 Q580.3,67.8 654.0,67.5 L678.3,86.2 C630.3,86.6 595.4,92.2 547.4,91.8 Z"/></clipPath>
<g clip-path="url(#eC2)">
<path d="M522.6,74.6 Q580.3,67.8 654.0,67.5 L678.3,86.2 C630.3,86.6 595.4,92.2 547.4,91.8 Z" fill="#ecdc56"/>
<g transform="matrix(131.40,-7.11,24.80,17.16,522.60,74.60)" filter="url(#eB3)">
<ellipse cx="0.2" cy="0.62" rx="0.2" ry="0.42" fill="#cc922e" opacity="0.44"/>
<ellipse cx="0.78" cy="0.5" rx="0.24" ry="0.5" fill="#f9f6c0" opacity="0.46"/>
</g>
<rect x="520" y="64.6" width="162" height="34" filter="url(#eNoise)" opacity="0.55"/>
<rect x="520" y="64.6" width="162" height="34" filter="url(#eNoise2)" opacity="0.6"/>
<g transform="matrix(131.40,-7.11,24.80,17.16,522.60,74.60)" filter="url(#eB2)">
<ellipse cx="0.391" cy="0.244" rx="0.088" ry="0.109" fill="#d8a634" opacity="0.50"/>
<ellipse cx="0.029" cy="0.268" rx="0.053" ry="0.219" fill="#d8a634" opacity="0.60"/>
<ellipse cx="0.343" cy="0.457" rx="0.070" ry="0.146" fill="#fbf8cc" opacity="0.80"/>
<ellipse cx="0.725" cy="0.411" rx="0.140" ry="0.255" fill="#fbf8cc" opacity="0.90"/>
<ellipse cx="0.838" cy="0.779" rx="0.105" ry="0.182" fill="#fffde8" opacity="0.85"/>
<ellipse cx="0.546" cy="0.833" rx="0.070" ry="0.109" fill="#d8a634" opacity="0.45"/>
<ellipse cx="0.583" cy="0.032" rx="0.088" ry="0.087" fill="#fbf8cc" opacity="0.70"/>
</g>
<g transform="matrix(131.40,-7.11,24.80,17.16,522.60,74.60)" filter="url(#eB1)">
<ellipse cx="0.163" cy="0.645" rx="0.114" ry="0.118" fill="#bc7e2a" opacity="0.85"/>
<ellipse cx="0.176" cy="0.656" rx="0.066" ry="0.064" fill="#5a1c78" opacity="0.95"/>
<ellipse cx="0.211" cy="0.029" rx="0.061" ry="0.050" fill="#8a3070" opacity="0.80"/>
<ellipse cx="0.460" cy="0.523" rx="0.044" ry="0.091" fill="#bc7e2a" opacity="0.80"/>
</g>
</g>
<path d="M591.2,83.0L587.6,56.0M611.0,83.0L616.3,56.0" stroke="#1fa8dc" stroke-width="1.25" fill="none"/>
<clipPath id="eC1"><path d="M522.6,44.4 Q580.3,37.7 654.0,37.3 L678.3,55.7 C630.3,56.1 595.4,61.5 547.4,61.1 Z"/></clipPath>
<g clip-path="url(#eC1)">
<path d="M522.6,44.4 Q580.3,37.7 654.0,37.3 L678.3,55.7 C630.3,56.1 595.4,61.5 547.4,61.1 Z" fill="#ead850"/>
<g transform="matrix(131.40,-7.06,24.80,16.73,522.60,44.40)" filter="url(#eB3)">
<ellipse cx="0.2" cy="0.62" rx="0.2" ry="0.42" fill="#cc922e" opacity="0.41"/>
<ellipse cx="0.78" cy="0.5" rx="0.24" ry="0.5" fill="#f9f6c0" opacity="0.51"/>
</g>
<rect x="520" y="34.4" width="162" height="34" filter="url(#eNoise)" opacity="0.55"/>
<rect x="520" y="34.4" width="162" height="34" filter="url(#eNoise2)" opacity="0.6"/>
<g transform="matrix(131.40,-7.06,24.80,16.73,522.60,44.40)" filter="url(#eB2)">
<ellipse cx="0.398" cy="0.891" rx="0.061" ry="0.164" fill="#fbf8cc" opacity="0.95"/>
<ellipse cx="0.280" cy="0.632" rx="0.053" ry="0.224" fill="#fbf8cc" opacity="0.80"/>
<ellipse cx="0.713" cy="0.755" rx="0.158" ry="0.299" fill="#fbf8cc" opacity="0.90"/>
<ellipse cx="0.777" cy="1.021" rx="0.088" ry="0.149" fill="#fffde8" opacity="0.80"/>
<ellipse cx="0.530" cy="1.037" rx="0.044" ry="0.224" fill="#d8a634" opacity="0.60"/>
<ellipse cx="0.875" cy="0.704" rx="0.061" ry="0.112" fill="#d8a634" opacity="0.60"/>
<ellipse cx="0.221" cy="1.145" rx="0.105" ry="0.112" fill="#d8a634" opacity="0.50"/>
<ellipse cx="0.422" cy="1.290" rx="0.088" ry="0.090" fill="#fbf8cc" opacity="0.80"/>
</g>
<g transform="matrix(131.40,-7.06,24.80,16.73,522.60,44.40)" filter="url(#eB1)">
<ellipse cx="0.083" cy="0.788" rx="0.088" ry="0.140" fill="#bc7e2a" opacity="0.90"/>
<ellipse cx="0.070" cy="0.813" rx="0.057" ry="0.084" fill="#5a1c78" opacity="1.00"/>
<ellipse cx="0.029" cy="0.347" rx="0.061" ry="0.117" fill="#bc7e2a" opacity="0.60"/>
<ellipse cx="0.396" cy="0.861" rx="0.105" ry="0.187" fill="#bc7e2a" opacity="0.55"/>
</g>
</g>
<path d="M587.6,56.0L585.1,37.0M616.3,56.0L620.0,37.0" stroke="#1fa8dc" stroke-width="1.25" fill="none"/>
<path d="M521,41 L523,43.2 Q532,43.4 538,45.2 Q544,47.8 548,49.7 L566,49.5 L584,48.3 L584,42 Z" fill="#fff"/>
<clipPath id="eC0"><path d="M522.6,29.6 Q580.3,22.9 654.0,22.6 L678.3,42.2 C630.3,42.6 595.4,48.0 547.4,47.6 Z"/></clipPath>
<g clip-path="url(#eC0)">
<path d="M522.6,29.6 Q580.3,22.9 654.0,22.6 L678.3,42.2 C630.3,42.6 595.4,48.0 547.4,47.6 Z" fill="#ecdc52"/>
<g transform="matrix(131.40,-7.00,24.80,18.00,522.60,29.60)" filter="url(#eB3)">
<ellipse cx="0.2" cy="0.62" rx="0.2" ry="0.42" fill="#cc922e" opacity="0.38"/>
<ellipse cx="0.78" cy="0.5" rx="0.24" ry="0.5" fill="#f9f6c0" opacity="0.55"/>
</g>
<rect x="520" y="19.6" width="162" height="34" filter="url(#eNoise)" opacity="0.55"/>
<rect x="520" y="19.6" width="162" height="34" filter="url(#eNoise2)" opacity="0.6"/>
<g transform="matrix(131.40,-7.00,24.80,18.00,522.60,29.60)" filter="url(#eB2)">
<ellipse cx="0.564" cy="0.131" rx="0.070" ry="0.139" fill="#d8a634" opacity="0.60"/>
<ellipse cx="0.714" cy="0.467" rx="0.193" ry="0.347" fill="#fbf8cc" opacity="0.90"/>
<ellipse cx="0.828" cy="0.344" rx="0.070" ry="0.139" fill="#fffde8" opacity="0.80"/>
<ellipse cx="0.432" cy="0.024" rx="0.053" ry="0.139" fill="#fbf8cc" opacity="0.90"/>
<ellipse cx="0.029" cy="0.145" rx="0.044" ry="0.139" fill="#fbf8cc" opacity="0.70"/>
<ellipse cx="0.866" cy="0.748" rx="0.053" ry="0.104" fill="#d8a634" opacity="0.50"/>
<ellipse cx="0.552" cy="0.681" rx="0.070" ry="0.104" fill="#d8a634" opacity="0.50"/>
<ellipse cx="0.205" cy="0.824" rx="0.088" ry="0.104" fill="#fbf8cc" opacity="0.80"/>
</g>
<g transform="matrix(131.40,-7.00,24.80,18.00,522.60,29.60)" filter="url(#eB1)">
<ellipse cx="0.185" cy="0.288" rx="0.140" ry="0.347" fill="#bc7e2a" opacity="0.90"/>
<ellipse cx="0.182" cy="0.260" rx="0.105" ry="0.282" fill="#5a1c78" opacity="1.00"/>
<ellipse cx="0.215" cy="0.328" rx="0.044" ry="0.152" fill="#2a1058" opacity="0.90"/>
<ellipse cx="0.153" cy="0.054" rx="0.044" ry="0.108" fill="#5a1c78" opacity="0.85"/>
<ellipse cx="0.280" cy="0.103" rx="0.035" ry="0.087" fill="#5a1c78" opacity="0.80"/>
<ellipse cx="0.068" cy="0.382" rx="0.044" ry="0.108" fill="#8a3070" opacity="0.60"/>
<ellipse cx="0.390" cy="0.452" rx="0.044" ry="0.303" fill="#bc7e2a" opacity="0.55"/>
</g>
</g>
<path d="M597,29.8 L621.5,35.6 M589.5,41.6 L616.7,39.3" stroke="#1fa8dc" stroke-width="1.1" stroke-dasharray="1.4,1.1" fill="none"/>
<path d="M587.2,32.6 L585.2,39.8 M621.8,29.6 L620.5,37.4" stroke="#1fa8dc" stroke-width="1.2" fill="none"/>
<path d="M566,22 L581,21.5 L589,18.5 M581,21.5 L597,36.5 L562,42.5 L556,45.5 M562,42.5 L551,41.5 M597,36.5 L649,38 L658,35 L672,33 M649,38 L655,41.5" stroke="#b01828" stroke-width="0.8" fill="none"/>
<text x="627" y="28.5" font-size="3.4" fill="#b01828" transform="rotate(-8 627 28.5)">Γ</text><text x="540" y="33" font-size="3.4" fill="#b01828">Γ</text>
<text x="552" y="44" font-size="3" fill="#b01828" transform="rotate(-8 552 44)">2nd BZ</text><text x="642" y="37.5" font-size="3" fill="#b01828" transform="rotate(-6 642 37.5)">1st BZ</text>
<line x1="547.3" y1="245.5" x2="547.3" y2="20" stroke="#505050" stroke-width="1"/><polygon points="547.3,16 545.4,21.5 549.2,21.5" fill="#222"/>
<text x="537.6" y="23" font-size="10" class="i" fill="#111">E</text>
<line x1="547.5" y1="245.6" x2="521.5" y2="226.5" stroke="#222" stroke-width="0.8"/><polygon points="518.5,224.3 523.8,225.6 521.6,228.6" fill="#111"/>
<line x1="547.5" y1="245.6" x2="680" y2="237.4" stroke="#222" stroke-width="0.8"/><polygon points="684,236.9 678.8,235.5 679.2,239.4" fill="#111"/>
<text x="518" y="238.5" font-size="8" class="i" fill="#111">k<tspan font-size="5" dy="1.6">y</tspan></text>
<text x="677.3" y="251.5" font-size="8" class="i" fill="#111">k<tspan font-size="5" dy="1.6">x</tspan></text>
<text x="670" y="31.2" font-size="7.4" fill="#111"><tspan class="i">E</tspan><tspan font-size="4.4" dy="1.5" class="i">F</tspan></text>
<text x="646" y="64.7" font-size="7.1" fill="#111" transform="rotate(-4.4 646 64.7)"><tspan class="i">E</tspan><tspan font-size="4.2" dy="1.4" class="i">F</tspan><tspan dy="-1.4">-0.05 eV</tspan></text>
<text x="646" y="94.7" font-size="7.1" fill="#111" transform="rotate(-4.4 646 94.7)"><tspan class="i">E</tspan><tspan font-size="4.2" dy="1.4" class="i">F</tspan><tspan dy="-1.4">-0.15 eV</tspan></text>
<text x="646" y="124.3" font-size="7.1" fill="#111" transform="rotate(-4.4 646 124.3)"><tspan class="i">E</tspan><tspan font-size="4.2" dy="1.4" class="i">F</tspan><tspan dy="-1.4">-0.25 eV</tspan></text>
<text x="646" y="155.3" font-size="7.1" fill="#111" transform="rotate(-4.4 646 155.3)"><tspan class="i">E</tspan><tspan font-size="4.2" dy="1.4" class="i">F</tspan><tspan dy="-1.4">-0.35 eV</tspan></text>
<text x="646" y="185.1" font-size="7.1" fill="#111" transform="rotate(-4.4 646 185.1)"><tspan class="i">E</tspan><tspan font-size="4.2" dy="1.4" class="i">F</tspan><tspan dy="-1.4">-0.45 eV</tspan></text>
<text x="646" y="215.3" font-size="7.1" fill="#111" transform="rotate(-4.4 646 215.3)"><tspan class="i">E</tspan><tspan font-size="4.2" dy="1.4" class="i">F</tspan><tspan dy="-1.4">-0.55 eV</tspan></text>
<text x="646" y="245.5" font-size="7.1" fill="#111" transform="rotate(-4.4 646 245.5)"><tspan class="i">E</tspan><tspan font-size="4.2" dy="1.4" class="i">F</tspan><tspan dy="-1.4">-0.65 eV</tspan></text>
<text x="607" y="145.6" font-size="6.8" fill="#1fa8dc">Dirac point</text>
</g>
<defs>
<filter id="fB1" x="-30%" y="-30%" width="160%" height="160%"><feGaussianBlur stdDeviation="1.0"/></filter>
<filter id="fB05" x="-30%" y="-30%" width="160%" height="160%"><feGaussianBlur stdDeviation="0.7"/></filter>
<filter id="fB15" x="-30%" y="-30%" width="160%" height="160%"><feGaussianBlur stdDeviation="1.5"/></filter>
<filter id="fB2" x="-30%" y="-30%" width="160%" height="160%"><feGaussianBlur stdDeviation="2.2"/></filter>
<filter id="fB4" x="-30%" y="-30%" width="160%" height="160%"><feGaussianBlur stdDeviation="4.5"/></filter>
<linearGradient id="fBase" x1="0" y1="0" x2="0" y2="1">
<stop offset="0" stop-color="#fff4a0"/><stop offset="0.035" stop-color="#ecb236"/><stop offset="0.09" stop-color="#cc8428"/><stop offset="0.22" stop-color="#c07630"/>
<stop offset="0.32" stop-color="#ac6048"/><stop offset="0.42" stop-color="#9c5060"/><stop offset="0.52" stop-color="#a05860"/><stop offset="0.64" stop-color="#b87038"/><stop offset="0.78" stop-color="#c47e28"/><stop offset="1" stop-color="#c27a24"/></linearGradient>
<linearGradient id="gBase" x1="0" y1="0" x2="0" y2="1">
<stop offset="0" stop-color="#fff4a0"/><stop offset="0.035" stop-color="#e8a82a"/><stop offset="0.08" stop-color="#9c4e62"/><stop offset="0.2" stop-color="#985060"/>
<stop offset="0.33" stop-color="#a45c56"/><stop offset="0.42" stop-color="#94496a"/><stop offset="0.52" stop-color="#984c68"/><stop offset="0.64" stop-color="#b06844"/><stop offset="0.78" stop-color="#c07a2c"/><stop offset="1" stop-color="#be7628"/></linearGradient>
<clipPath id="fClip"><rect x="187.4" y="151.3" width="89.6" height="105.4"/></clipPath>
<clipPath id="gClip"><rect x="368.6" y="149.4" width="88.8" height="104.4"/></clipPath>
</defs>
<g id="panelF">
<text class="lb" x="160.8" y="149.2">f</text>
<g clip-path="url(#fClip)">
<rect x="187" y="151" width="91" height="106" fill="url(#fBase)"/>
<g filter="url(#fB4)">
<ellipse cx="232.2" cy="168" rx="20" ry="11" fill="#d8962a" opacity="0.8"/>
<ellipse cx="232.2" cy="198" rx="54" ry="12" fill="#7c3878" opacity="0.62"/>
<ellipse cx="232.2" cy="203" rx="6.5" ry="26" fill="#74307a" opacity="0.7"/>
<ellipse cx="195" cy="199" rx="9" ry="20" fill="#74307a" opacity="0.75"/>
<ellipse cx="269" cy="199" rx="9" ry="20" fill="#74307a" opacity="0.75"/>
<ellipse cx="213.5" cy="236" rx="5" ry="28" fill="#d08c28" opacity="0.6"/>
<ellipse cx="251" cy="236" rx="5" ry="28" fill="#d08c28" opacity="0.6"/>
<ellipse cx="232.2" cy="240" rx="5" ry="18" fill="#a8643c" opacity="0.45"/>
<ellipse cx="193" cy="238" rx="5" ry="16" fill="#b06c38" opacity="0.4"/>
<ellipse cx="271" cy="238" rx="5" ry="16" fill="#b06c38" opacity="0.4"/>
</g>
<g filter="url(#fB15)" fill="none" stroke-linecap="round">
<path d="M277.4,155.5 Q270.4,160.0 263.4,168.5" stroke="#8a4668" stroke-width="2.6" opacity="0.6"/>
<path d="M268.4,171.5 C259.4,168.0 255.4,160.5 245.4,156.3" stroke="#6a2c70" stroke-width="3.6" opacity="0.8"/>
<ellipse cx="247.4" cy="157.2" rx="4.5" ry="1.8" fill="#6a2c70" opacity="0.7" stroke="none"/>
<path d="M280.4,169.6 L268.4,169.2 L259.4,166.8 L260.4,170.6 L268.4,175.6 L280.4,176.6 Z" fill="#2c1054" stroke="none"/>
<path d="M187.0,155.5 Q194.0,160.0 201.0,168.5" stroke="#8a4668" stroke-width="2.6" opacity="0.6"/>
<path d="M196.0,171.5 C205.0,168.0 209.0,160.5 219.0,156.3" stroke="#6a2c70" stroke-width="3.6" opacity="0.8"/>
<ellipse cx="217.0" cy="157.2" rx="4.5" ry="1.8" fill="#6a2c70" opacity="0.7" stroke="none"/>
<path d="M184.0,169.6 L196.0,169.2 L205.0,166.8 L204.0,170.6 L196.0,175.6 L184.0,176.6 Z" fill="#2c1054" stroke="none"/>
<path d="M217,161.8 L247,161.8" stroke="#a8602a" stroke-width="0.8" opacity="0.8"/>
</g>
<rect x="185" y="149" width="95" height="5.8" fill="#fff8b8" filter="url(#fB05)"/>
<rect x="188.1" y="246.2" width="14.5" height="10" fill="#f2e2cc"/><line x1="190.5" y1="251" x2="199.7" y2="251" stroke="#8a2fb4" stroke-width="1"/>
</g>
<rect x="187.4" y="151.3" width="89.6" height="105.4" fill="none" stroke="#222" stroke-width="0.7"/>
<rect x="277" y="151.3" width="48" height="105.4" fill="#fff" stroke="#222" stroke-width="0.7"/>
<path d="M187.2,154.6h-2.6M187.2,158.2h-1.4M187.2,161.8h-1.4M187.2,165.3h-1.4M187.2,168.9h-1.4M187.2,172.5h-2.6M187.2,176.1h-1.4M187.2,179.7h-1.4M187.2,183.2h-1.4M187.2,186.8h-1.4M187.2,190.4h-2.6M187.2,194.0h-1.4M187.2,197.6h-1.4M187.2,201.1h-1.4M187.2,204.7h-1.4M187.2,208.3h-2.6M187.2,211.9h-1.4M187.2,215.5h-1.4M187.2,219.0h-1.4M187.2,222.6h-1.4M187.2,226.2h-2.6M187.2,229.8h-1.4M187.2,233.4h-1.4M187.2,236.9h-1.4M187.2,240.5h-1.4M187.2,244.1h-2.6M187.2,247.7h-1.4M187.2,251.3h-1.4M187.2,254.8h-1.4M187.6,256.9v2.6M191.3,256.9v1.4M195.0,256.9v1.4M198.7,256.9v1.4M202.4,256.9v2.6M206.2,256.9v1.4M209.9,256.9v1.4M213.6,256.9v1.4M217.3,256.9v2.6M221.0,256.9v1.4M224.8,256.9v1.4M228.5,256.9v1.4M232.2,256.9v2.6M235.9,256.9v1.4M239.6,256.9v1.4M243.4,256.9v1.4M247.1,256.9v2.6M250.8,256.9v1.4M254.5,256.9v1.4M258.2,256.9v1.4M262.0,256.9v2.6M265.7,256.9v1.4M269.4,256.9v1.4M273.1,256.9v1.4M276.8,256.9v2.6" stroke="#222" stroke-width="0.5" fill="none"/>
<text x="184.4" y="156.9" font-size="7.2" text-anchor="end" fill="#222">0.0</text>
<text x="184.4" y="174.8" font-size="7.2" text-anchor="end" fill="#222">-0.5</text>
<text x="184.4" y="192.7" font-size="7.2" text-anchor="end" fill="#222">-1.0</text>
<text x="184.4" y="210.6" font-size="7.2" text-anchor="end" fill="#222">-1.5</text>
<text x="184.4" y="228.5" font-size="7.2" text-anchor="end" fill="#222">-2.0</text>
<text x="184.4" y="246.4" font-size="7.2" text-anchor="end" fill="#222">-2.5</text>
<text x="186.6" y="266.8" font-size="7" text-anchor="middle" fill="#222">-0.6</text>
<text x="201.4" y="266.8" font-size="7" text-anchor="middle" fill="#222">-0.4</text>
<text x="216.3" y="266.8" font-size="7" text-anchor="middle" fill="#222">-0.2</text>
<text x="232.2" y="266.8" font-size="7" text-anchor="middle" fill="#222">0.0</text>
<text x="247.1" y="266.8" font-size="7" text-anchor="middle" fill="#222">0.2</text>
<text x="262.0" y="266.8" font-size="7" text-anchor="middle" fill="#222">0.4</text>
<text x="276.8" y="266.8" font-size="7" text-anchor="middle" fill="#222">0.6</text>
<text x="236.5" y="275" font-size="7.8" text-anchor="middle" fill="#222"><tspan class="i">k</tspan> (Å<tspan font-size="4.2" dy="-2.4">-1</tspan><tspan dy="2.4">)</tspan></text>
<text x="289.6" y="266" font-size="8" fill="#222">Intensity</text><text x="289.6" y="275.2" font-size="8" fill="#222">(arb. units)</text>
<text transform="translate(166.9,201.7) rotate(-90)" font-size="8" text-anchor="middle" fill="#222"><tspan class="i">E</tspan> - <tspan class="i">E</tspan><tspan font-size="4.3" dy="1.4" class="i">F</tspan><tspan dy="-1.4"> (eV)</tspan></text>
<text x="202.8" y="148.5" font-size="7.0" text-anchor="middle" fill="#222">K</text><line x1="201.4" y1="142.0" x2="204.2" y2="142.0" stroke="#222" stroke-width="0.7"/>
<text x="232.5" y="148.5" font-size="7.0" text-anchor="middle" fill="#222">M</text><line x1="230.7" y1="142.0" x2="234.3" y2="142.0" stroke="#222" stroke-width="0.7"/>
<text x="262.8" y="148.5" font-size="7.0" text-anchor="middle" fill="#222">K</text><line x1="261.4" y1="142.0" x2="264.2" y2="142.0" stroke="#222" stroke-width="0.7"/>
<path d="M276.9,153.6C279.3,153.7 287.3,153.9 291.2,154.4C295.1,154.9 297.9,155.9 300.3,156.7C302.7,157.5 304.5,158.2 305.8,159.1C307.1,159.9 307.4,160.9 307.9,161.8C308.3,162.8 308.0,163.6 308.5,164.8C309.0,166.0 309.7,167.7 310.9,168.8C312.1,169.9 314.3,170.3 315.5,171.2C316.7,172.0 317.3,172.5 317.9,173.9C318.5,175.3 318.5,177.0 319.1,179.4C319.7,181.8 320.7,185.5 321.5,188.5C322.3,191.5 323.8,194.8 323.9,197.6C324.0,200.4 323.2,202.4 322.1,205.2C321.0,208.0 318.6,210.9 317.0,214.2C315.4,217.5 313.8,221.0 312.4,224.8C311.0,228.6 309.8,232.9 308.8,237.0C307.8,241.1 306.9,245.8 306.4,249.1C305.8,252.4 305.6,255.4 305.5,256.7" stroke="#222" stroke-width="0.55" fill="none"/>
<line x1="281" y1="197.8" x2="286.6" y2="197.8" stroke="#16a6ea" stroke-width="1"/><polygon points="279,197.8 282.8,195.8 282.8,199.8" fill="#16a6ea"/>
<text x="287.6" y="200.2" font-size="7.8" fill="#16a6ea">flat band</text>
</g>
<g id="panelG">
<text class="lb" x="342.8" y="150">g</text>
<g clip-path="url(#gClip)">
<rect x="368" y="149" width="90" height="106" fill="url(#gBase)"/>
<g filter="url(#fB4)">
<ellipse cx="413" cy="172" rx="22" ry="13.5" fill="#dc9a2c" opacity="0.95"/>
<ellipse cx="413" cy="164" rx="16" ry="8" fill="#dc9a2c" opacity="0.85"/>
<ellipse cx="413" cy="228" rx="6.5" ry="30" fill="#cf8c2a" opacity="0.8"/>
<ellipse cx="413" cy="248" rx="46" ry="8" fill="#c8842a" opacity="0.4"/>
<ellipse cx="371" cy="236" rx="6" ry="22" fill="#d08a28" opacity="0.6"/>
<ellipse cx="455" cy="236" rx="6" ry="22" fill="#d08a28" opacity="0.6"/>
<ellipse cx="391.5" cy="197" rx="10" ry="8" fill="#5e2676" opacity="0.85"/>
<ellipse cx="432" cy="197" rx="10" ry="8" fill="#5e2676" opacity="0.85"/>
<ellipse cx="372" cy="196" rx="8" ry="9" fill="#7a3878" opacity="0.5"/>
<ellipse cx="454" cy="196" rx="8" ry="9" fill="#7a3878" opacity="0.5"/>
<ellipse cx="392" cy="220" rx="5.5" ry="20" fill="#7a3474" opacity="0.55"/>
<ellipse cx="432" cy="220" rx="5.5" ry="20" fill="#7a3474" opacity="0.55"/>
</g>
<g filter="url(#fB1)" fill="none">
<path d="M366,162.5 C383,158.5 391,153.8 404,153.2 L422,153.2 C435,153.8 443,158.5 460,162.5" stroke="#5a2468" stroke-width="3.4" opacity="0.7"/>
<path d="M384,157 C391,154.2 396,153.2 404,153 L422,153 C430,153.2 435,154.2 442,157" stroke="#1c0a3c" stroke-width="1.6" opacity="0.9"/>
<path d="M368,147 L400,147 C388,152 380,156 368,159.5 Z" fill="#ffe98a" opacity="0.95"/>
<path d="M458,147 L426,147 C438,152 446,156 458,159.5 Z" fill="#ffe98a" opacity="0.95"/>
<rect x="366" y="147.4" width="94" height="3.8" fill="#fff6a8" opacity="0.95"/>
</g>
<rect x="370" y="244.6" width="13.6" height="8.6" fill="#f2e2cc"/><line x1="372.5" y1="249.3" x2="381" y2="249.3" stroke="#16a850" stroke-width="1"/>
</g>
<rect x="368.6" y="149.4" width="88.8" height="104.4" fill="none" stroke="#222" stroke-width="0.7"/>
<rect x="457.2" y="149.4" width="48" height="104.4" fill="#fff" stroke="#222" stroke-width="0.7"/>
<path d="M368.4,152.6h-2.6M368.4,156.2h-1.4M368.4,159.7h-1.4M368.4,163.2h-1.4M368.4,166.8h-1.4M368.4,170.3h-2.6M368.4,173.9h-1.4M368.4,177.4h-1.4M368.4,181.0h-1.4M368.4,184.5h-1.4M368.4,188.1h-2.6M368.4,191.7h-1.4M368.4,195.2h-1.4M368.4,198.8h-1.4M368.4,202.3h-1.4M368.4,205.8h-2.6M368.4,209.4h-1.4M368.4,212.9h-1.4M368.4,216.5h-1.4M368.4,220.1h-1.4M368.4,223.6h-2.6M368.4,227.1h-1.4M368.4,230.7h-1.4M368.4,234.2h-1.4M368.4,237.8h-1.4M368.4,241.3h-2.6M368.4,244.9h-1.4M368.4,248.4h-1.4M368.4,252.0h-1.4M368.5,254v2.6M372.2,254v1.4M375.9,254v1.4M379.7,254v1.4M383.4,254v2.6M387.1,254v1.4M390.8,254v1.4M394.5,254v1.4M398.2,254v2.6M401.9,254v1.4M405.6,254v1.4M409.3,254v1.4M413.0,254v2.6M416.7,254v1.4M420.4,254v1.4M424.1,254v1.4M427.8,254v2.6M431.5,254v1.4M435.2,254v1.4M438.9,254v1.4M442.6,254v2.6M446.3,254v1.4M450.1,254v1.4M453.8,254v1.4M457.5,254v2.6" stroke="#222" stroke-width="0.5" fill="none"/>
<text x="365.2" y="154.9" font-size="7.2" text-anchor="end" fill="#222">0.0</text>
<text x="365.2" y="172.7" font-size="7.2" text-anchor="end" fill="#222">-0.5</text>
<text x="365.2" y="190.4" font-size="7.2" text-anchor="end" fill="#222">-1.0</text>
<text x="365.2" y="208.2" font-size="7.2" text-anchor="end" fill="#222">-1.5</text>
<text x="365.2" y="225.9" font-size="7.2" text-anchor="end" fill="#222">-2.0</text>
<text x="365.2" y="243.7" font-size="7.2" text-anchor="end" fill="#222">-2.5</text>
<text x="367.5" y="263.9" font-size="7" text-anchor="middle" fill="#222">-0.6</text>
<text x="382.4" y="263.9" font-size="7" text-anchor="middle" fill="#222">-0.4</text>
<text x="397.2" y="263.9" font-size="7" text-anchor="middle" fill="#222">-0.2</text>
<text x="413.0" y="263.9" font-size="7" text-anchor="middle" fill="#222">0.0</text>
<text x="427.8" y="263.9" font-size="7" text-anchor="middle" fill="#222">0.2</text>
<text x="442.6" y="263.9" font-size="7" text-anchor="middle" fill="#222">0.4</text>
<text x="457.5" y="263.9" font-size="7" text-anchor="middle" fill="#222">0.6</text>
<text x="416" y="273.2" font-size="7.8" text-anchor="middle" fill="#222"><tspan class="i">k</tspan> (Å<tspan font-size="4.2" dy="-2.4">-1</tspan><tspan dy="2.4">)</tspan></text>
<text x="470.6" y="264.4" font-size="8" fill="#222">Intensity</text><text x="470.6" y="274.3" font-size="8" fill="#222">(arb. units)</text>
<text transform="translate(346.3,201.6) rotate(-90)" font-size="8" text-anchor="middle" fill="#222"><tspan class="i">E</tspan> - <tspan class="i">E</tspan><tspan font-size="4.3" dy="1.4" class="i">F</tspan><tspan dy="-1.4"> (eV)</tspan></text>
<text x="370.6" y="146.6" font-size="7.0" text-anchor="middle" fill="#222">K</text><line x1="369.2" y1="140.1" x2="372.0" y2="140.1" stroke="#222" stroke-width="0.7"/>
<text x="413.6" y="146.6" font-size="7.0" text-anchor="middle" fill="#222">Γ</text><line x1="412.3" y1="140.1" x2="414.9" y2="140.1" stroke="#222" stroke-width="0.7"/>
<text x="455.8" y="146.6" font-size="7.0" text-anchor="middle" fill="#222">K</text><line x1="454.4" y1="140.1" x2="457.2" y2="140.1" stroke="#222" stroke-width="0.7"/>
<line x1="377.5" y1="144.3" x2="385" y2="144.3" stroke="#222" stroke-width="0.5"/><polygon points="375.6,144.3 378.6,143 378.6,145.6" fill="#222"/>
<line x1="441.5" y1="144.3" x2="449" y2="144.3" stroke="#222" stroke-width="0.5"/><polygon points="450.9,144.3 447.9,143 447.9,145.6" fill="#222"/>
<path d="M457.2,151.6C461.1,151.7 474.4,152.0 480.3,152.4C486.2,152.8 489.8,153.2 492.4,153.8C495.0,154.4 495.6,155.4 496.1,156.2C496.6,157.0 495.4,157.7 495.5,158.6C495.6,159.5 496.0,160.6 496.4,161.6C496.8,162.6 497.9,163.6 497.9,164.7C497.8,165.8 497.0,167.0 496.1,168.3C495.2,169.7 493.3,171.3 492.4,172.8C491.5,174.3 490.9,175.9 490.9,177.4C490.9,178.9 491.1,180.1 492.4,181.9C493.7,183.7 496.6,186.0 498.5,188.0C500.4,190.0 502.9,192.3 503.9,194.1C504.9,195.9 504.8,196.8 504.5,198.6C504.2,200.4 503.4,202.7 502.1,204.7C500.9,206.7 498.5,208.4 497.0,210.7C495.5,213.0 494.2,215.3 493.3,218.3C492.4,221.3 492.3,225.1 491.8,228.9C491.3,232.7 490.8,236.8 490.3,241.0C489.8,245.2 489.1,251.7 488.8,253.8" stroke="#222" stroke-width="0.55" fill="none"/>
<line x1="461.8" y1="196.9" x2="466.8" y2="196.9" stroke="#16a6ea" stroke-width="1"/><polygon points="459.8,196.9 463.6,194.9 463.6,198.9" fill="#16a6ea"/>
<text x="467.6" y="198.8" font-size="7.8" fill="#16a6ea">flat band</text>
</g>
<g id="panelH">
<text class="lb" x="1.6" y="292.4">h</text>
<text x="109" y="291.8" font-size="8" fill="#222">itinerant</text>
<text x="61.0" y="301.4" font-size="8" fill="#222"><tspan class="i">T</tspan> &gt; <tspan class="i">T</tspan><tspan font-size="4.8" dy="1.6">C</tspan></text>
<text x="167.8" y="301.4" font-size="8" fill="#222"><tspan class="i">T</tspan> &lt; <tspan class="i">T</tspan><tspan font-size="4.8" dy="1.6">C</tspan></text>
<rect x="20.8" y="313.7" width="94.4" height="80.5" fill="none" stroke="#b0b0b0" stroke-width="0.6"/>
<path d="M54.4,313.7V394.2M75.6,313.7V394.2" stroke="#777" stroke-width="0.5" stroke-dasharray="1.8,1.4" fill="none"/>
<text x="20.8" y="311" font-size="6" text-anchor="middle" fill="#222">Γ</text>
<text x="54.4" y="311" font-size="6" text-anchor="middle" fill="#222">M</text>
<text x="76.4" y="311" font-size="6" text-anchor="middle" fill="#222">K</text>
<text x="115.2" y="311" font-size="6" text-anchor="middle" fill="#222">Γ</text>
<text x="12.6" y="334.6" font-size="7" fill="#222"><tspan class="i">E</tspan><tspan font-size="4.2" dy="1.4" class="i">F</tspan></text>
<path d="M20.8,332.1H115.2" stroke="#6e6e6e" stroke-width="1.20" fill="none"/><path d="M20.8,332.1C21.6,332.2 23.8,332.2 25.3,332.5C26.8,332.8 28.3,333.1 29.8,333.7C31.3,334.3 32.8,335.1 34.3,335.9C35.8,336.7 37.2,337.7 38.7,338.6C40.2,339.5 41.7,340.5 43.2,341.4C44.7,342.3 46.2,343.3 47.6,344.0C49.0,344.7 50.1,345.3 51.3,345.8C52.4,346.3 53.3,346.6 54.5,347.0C55.7,347.4 57.0,347.8 58.3,348.1C59.6,348.5 61.2,348.8 62.5,349.1C63.8,349.4 65.1,349.7 66.3,350.1C67.5,350.5 68.7,351.0 69.9,351.5C71.1,352.0 72.2,352.4 73.3,352.9C74.4,353.4 75.3,353.6 76.6,354.6C77.9,355.6 79.7,357.5 81.3,358.9C82.9,360.4 84.7,362.0 86.3,363.3C87.9,364.6 89.2,365.8 90.8,366.9C92.4,368.1 94.3,369.3 95.8,370.2C97.3,371.1 98.4,371.7 99.8,372.3C101.2,372.9 102.5,373.4 104.2,374.0C105.9,374.6 108.0,375.3 109.8,375.7C111.6,376.1 114.3,376.5 115.2,376.6" stroke="#6e6e6e" stroke-width="1.20" fill="none"/><path d="M20.8,376.6C21.6,376.5 23.8,376.4 25.3,376.1C26.8,375.8 28.3,375.3 29.8,374.7C31.3,374.1 32.8,373.5 34.3,372.7C35.8,372.0 37.2,371.1 38.7,370.2C40.2,369.3 41.7,368.3 43.2,367.4C44.7,366.5 46.2,365.5 47.6,364.8C49.0,364.1 50.1,363.5 51.3,363.0C52.4,362.5 53.3,362.1 54.5,361.8C55.7,361.5 57.0,361.3 58.3,361.1C59.6,360.9 61.2,360.7 62.5,360.4C63.8,360.1 65.1,359.8 66.3,359.4C67.5,359.0 68.7,358.5 69.9,358.0C71.1,357.5 72.2,357.0 73.3,356.4C74.4,355.8 75.3,355.6 76.6,354.6C77.9,353.6 79.7,351.7 81.3,350.3C82.9,348.9 84.7,347.4 86.3,346.1C87.9,344.8 89.2,343.8 90.8,342.7C92.4,341.6 94.3,340.4 95.8,339.5C97.3,338.6 98.4,338.0 99.8,337.3C101.2,336.6 102.5,336.1 104.2,335.4C105.9,334.7 108.0,333.9 109.8,333.3C111.6,332.8 114.3,332.3 115.2,332.1" stroke="#6e6e6e" stroke-width="1.20" fill="none"/>
<line x1="57.1" y1="354.0" x2="57.1" y2="343.5" stroke="#f02828" stroke-width="1.50"/><polygon points="57.1,340.4 54.8,344.8 59.4,344.8" fill="#f02828"/>
<line x1="62.1" y1="340.6" x2="62.1" y2="351.1" stroke="#1414f0" stroke-width="1.50"/><polygon points="62.1,354.2 59.8,349.8 64.4,349.8" fill="#1414f0"/>
<path d="M115.8,331.6L134.3,313.2M115.8,332.6L134.3,347.8" stroke="#333" stroke-width="0.7" stroke-dasharray="2,1.5" fill="none"/>
<path d="M134.5,313.1H229.5" stroke="#f02828" stroke-width="1.30" fill="none"/><path d="M134.5,313.1C135.3,313.2 137.5,313.2 139.0,313.5C140.5,313.8 142.0,314.1 143.6,314.7C145.1,315.3 146.6,316.1 148.1,316.9C149.6,317.7 151.0,318.7 152.5,319.6C154.0,320.5 155.5,321.5 157.0,322.4C158.5,323.3 160.1,324.3 161.5,325.0C162.8,325.7 164.0,326.3 165.2,326.8C166.4,327.3 167.2,327.6 168.4,328.0C169.6,328.4 170.9,328.8 172.2,329.1C173.6,329.5 175.1,329.8 176.5,330.1C177.8,330.4 179.0,330.7 180.3,331.1C181.5,331.5 182.7,332.0 183.9,332.5C185.1,333.0 186.2,333.4 187.3,333.9C188.5,334.4 189.3,334.6 190.7,335.6C192.0,336.6 193.8,338.5 195.4,339.9C197.0,341.4 198.8,343.0 200.4,344.3C202.0,345.6 203.4,346.8 204.9,347.9C206.5,349.1 208.5,350.3 210.0,351.2C211.5,352.1 212.6,352.7 214.0,353.3C215.4,353.9 216.8,354.4 218.4,355.0C220.1,355.6 222.2,356.3 224.1,356.7C225.9,357.1 228.6,357.5 229.5,357.6" stroke="#f02828" stroke-width="1.30" fill="none"/><path d="M134.5,357.6C135.3,357.5 137.5,357.4 139.0,357.1C140.5,356.8 142.0,356.3 143.6,355.7C145.1,355.1 146.6,354.5 148.1,353.7C149.6,353.0 151.0,352.1 152.5,351.2C154.0,350.3 155.5,349.3 157.0,348.4C158.5,347.5 160.1,346.5 161.5,345.8C162.8,345.1 164.0,344.5 165.2,344.0C166.4,343.5 167.2,343.1 168.4,342.8C169.6,342.5 170.9,342.3 172.2,342.1C173.6,341.9 175.1,341.7 176.5,341.4C177.8,341.1 179.0,340.8 180.3,340.4C181.5,340.0 182.7,339.5 183.9,339.0C185.1,338.5 186.2,338.0 187.3,337.4C188.5,336.8 189.3,336.6 190.7,335.6C192.0,334.6 193.8,332.7 195.4,331.3C197.0,329.9 198.8,328.4 200.4,327.1C202.0,325.8 203.4,324.8 204.9,323.7C206.5,322.6 208.5,321.4 210.0,320.5C211.5,319.6 212.6,319.0 214.0,318.3C215.4,317.6 216.8,317.1 218.4,316.4C220.1,315.7 222.2,314.9 224.1,314.3C225.9,313.8 228.6,313.3 229.5,313.1" stroke="#f02828" stroke-width="1.30" fill="none"/>
<path d="M134.5,347.9H229.5" stroke="#1414f0" stroke-width="1.30" fill="none"/><path d="M134.5,347.9C135.3,348.0 137.5,348.0 139.0,348.3C140.5,348.6 142.0,348.9 143.6,349.5C145.1,350.1 146.6,350.9 148.1,351.7C149.6,352.5 151.0,353.5 152.5,354.4C154.0,355.3 155.5,356.3 157.0,357.2C158.5,358.1 160.1,359.1 161.5,359.8C162.8,360.5 164.0,361.1 165.2,361.6C166.4,362.1 167.2,362.4 168.4,362.8C169.6,363.2 170.9,363.5 172.2,363.9C173.6,364.2 175.1,364.6 176.5,364.9C177.8,365.2 179.0,365.5 180.3,365.9C181.5,366.3 182.7,366.8 183.9,367.3C185.1,367.8 186.2,368.2 187.3,368.7C188.5,369.2 189.3,369.4 190.7,370.4C192.0,371.4 193.8,373.2 195.4,374.7C197.0,376.1 198.8,377.8 200.4,379.1C202.0,380.4 203.4,381.5 204.9,382.7C206.5,383.9 208.5,385.1 210.0,386.0C211.5,386.9 212.6,387.5 214.0,388.1C215.4,388.7 216.8,389.2 218.4,389.8C220.1,390.4 222.2,391.1 224.1,391.5C225.9,391.9 228.6,392.2 229.5,392.4" stroke="#1414f0" stroke-width="1.30" fill="none"/><path d="M134.5,392.4C135.3,392.3 137.5,392.2 139.0,391.9C140.5,391.6 142.0,391.1 143.6,390.5C145.1,389.9 146.6,389.2 148.1,388.5C149.6,387.8 151.0,386.9 152.5,386.0C154.0,385.1 155.5,384.1 157.0,383.2C158.5,382.3 160.1,381.3 161.5,380.6C162.8,379.9 164.0,379.3 165.2,378.8C166.4,378.3 167.2,377.9 168.4,377.6C169.6,377.3 170.9,377.1 172.2,376.9C173.6,376.7 175.1,376.5 176.5,376.2C177.8,375.9 179.0,375.6 180.3,375.2C181.5,374.8 182.7,374.3 183.9,373.8C185.1,373.3 186.2,372.8 187.3,372.2C188.5,371.6 189.3,371.4 190.7,370.4C192.0,369.4 193.8,367.5 195.4,366.1C197.0,364.7 198.8,363.2 200.4,361.9C202.0,360.6 203.4,359.6 204.9,358.5C206.5,357.4 208.5,356.2 210.0,355.3C211.5,354.4 212.6,353.8 214.0,353.1C215.4,352.4 216.8,351.9 218.4,351.2C220.1,350.5 222.2,349.6 224.1,349.1C225.9,348.5 228.6,348.1 229.5,347.9" stroke="#1414f0" stroke-width="1.30" fill="none"/>
<line x1="171.9" y1="333.2" x2="171.9" y2="323.3" stroke="#f02828" stroke-width="1.50"/><polygon points="171.9,320.2 169.6,324.6 174.2,324.6" fill="#f02828"/>
<line x1="171.3" y1="357.2" x2="171.3" y2="367.1" stroke="#1414f0" stroke-width="1.50"/><polygon points="171.3,370.2 169.0,365.8 173.6,365.8" fill="#1414f0"/>
</g>
<g id="panelI">
<text class="lb" x="247.2" y="292.4">i</text>
<text x="338" y="291.8" font-size="8" fill="#222">local moment</text>
<text x="293.6" y="301.8" font-size="8" fill="#222"><tspan class="i">T</tspan> &gt; <tspan class="i">T</tspan><tspan font-size="4.8" dy="1.6">C</tspan></text>
<text x="408.6" y="301.8" font-size="8" fill="#222"><tspan class="i">T</tspan> &lt; <tspan class="i">T</tspan><tspan font-size="4.8" dy="1.6">C</tspan></text>
<path d="M257.6,316.0H352.6" stroke="#6e6e6e" stroke-width="1.10" fill="none"/><path d="M257.6,316.0C258.4,316.1 260.6,316.1 262.1,316.4C263.6,316.7 265.1,317.0 266.7,317.6C268.2,318.2 269.7,319.0 271.2,319.8C272.7,320.6 274.1,321.6 275.6,322.5C277.1,323.4 278.6,324.4 280.1,325.3C281.6,326.2 283.2,327.2 284.6,327.9C285.9,328.6 287.1,329.2 288.3,329.7C289.5,330.2 290.3,330.5 291.5,330.9C292.7,331.3 294.0,331.6 295.3,332.0C296.7,332.4 298.2,332.7 299.6,333.0C300.9,333.3 302.1,333.6 303.4,334.0C304.6,334.4 305.8,334.9 307.0,335.4C308.2,335.9 309.3,336.3 310.4,336.8C311.6,337.3 312.4,337.5 313.8,338.5C315.1,339.5 316.9,341.4 318.5,342.8C320.1,344.2 321.9,345.9 323.5,347.2C325.1,348.5 326.5,349.6 328.0,350.8C329.6,352.0 331.6,353.2 333.1,354.1C334.6,355.0 335.7,355.6 337.1,356.2C338.5,356.8 339.9,357.3 341.5,357.9C343.2,358.5 345.3,359.2 347.2,359.6C349.0,360.0 351.7,360.4 352.6,360.5" stroke="#6e6e6e" stroke-width="1.10" fill="none"/><path d="M257.6,360.5C258.4,360.4 260.6,360.3 262.1,360.0C263.6,359.7 265.1,359.2 266.7,358.6C268.2,358.0 269.7,357.4 271.2,356.6C272.7,355.9 274.1,355.0 275.6,354.1C277.1,353.2 278.6,352.2 280.1,351.3C281.6,350.4 283.2,349.4 284.6,348.7C285.9,348.0 287.1,347.4 288.3,346.9C289.5,346.4 290.3,346.0 291.5,345.7C292.7,345.4 294.0,345.2 295.3,345.0C296.7,344.8 298.2,344.6 299.6,344.3C300.9,344.0 302.1,343.7 303.4,343.3C304.6,342.9 305.8,342.4 307.0,341.9C308.2,341.4 309.3,340.9 310.4,340.3C311.6,339.7 312.4,339.5 313.8,338.5C315.1,337.5 316.9,335.6 318.5,334.2C320.1,332.8 321.9,331.3 323.5,330.0C325.1,328.7 326.5,327.7 328.0,326.6C329.6,325.5 331.6,324.3 333.1,323.4C334.6,322.5 335.7,321.9 337.1,321.2C338.5,320.5 339.9,320.0 341.5,319.3C343.2,318.6 345.3,317.8 347.2,317.2C349.0,316.6 351.7,316.2 352.6,316.0" stroke="#6e6e6e" stroke-width="1.10" fill="none"/>
<path d="M257.6,346.6H352.6" stroke="#6e6e6e" stroke-width="1.10" fill="none"/><path d="M257.6,346.6C258.4,346.7 260.6,346.7 262.1,347.0C263.6,347.3 265.1,347.6 266.7,348.2C268.2,348.8 269.7,349.6 271.2,350.4C272.7,351.2 274.1,352.2 275.6,353.1C277.1,354.0 278.6,355.0 280.1,355.9C281.6,356.8 283.2,357.8 284.6,358.5C285.9,359.2 287.1,359.8 288.3,360.3C289.5,360.8 290.3,361.1 291.5,361.5C292.7,361.9 294.0,362.2 295.3,362.6C296.7,363.0 298.2,363.3 299.6,363.6C300.9,363.9 302.1,364.2 303.4,364.6C304.6,365.0 305.8,365.5 307.0,366.0C308.2,366.5 309.3,366.9 310.4,367.4C311.6,367.9 312.4,368.1 313.8,369.1C315.1,370.1 316.9,372.0 318.5,373.4C320.1,374.9 321.9,376.5 323.5,377.8C325.1,379.1 326.5,380.2 328.0,381.4C329.6,382.6 331.6,383.8 333.1,384.7C334.6,385.6 335.7,386.2 337.1,386.8C338.5,387.4 339.9,387.9 341.5,388.5C343.2,389.1 345.3,389.8 347.2,390.2C349.0,390.6 351.7,391.0 352.6,391.1" stroke="#6e6e6e" stroke-width="1.10" fill="none"/><path d="M257.6,391.1C258.4,391.0 260.6,390.9 262.1,390.6C263.6,390.3 265.1,389.8 266.7,389.2C268.2,388.6 269.7,388.0 271.2,387.2C272.7,386.5 274.1,385.6 275.6,384.7C277.1,383.8 278.6,382.8 280.1,381.9C281.6,381.0 283.2,380.0 284.6,379.3C285.9,378.6 287.1,378.0 288.3,377.5C289.5,377.0 290.3,376.6 291.5,376.3C292.7,376.0 294.0,375.8 295.3,375.6C296.7,375.4 298.2,375.2 299.6,374.9C300.9,374.6 302.1,374.3 303.4,373.9C304.6,373.5 305.8,373.0 307.0,372.5C308.2,372.0 309.3,371.5 310.4,370.9C311.6,370.3 312.4,370.1 313.8,369.1C315.1,368.1 316.9,366.2 318.5,364.8C320.1,363.4 321.9,361.9 323.5,360.6C325.1,359.3 326.5,358.3 328.0,357.2C329.6,356.1 331.6,354.9 333.1,354.0C334.6,353.1 335.7,352.5 337.1,351.8C338.5,351.1 339.9,350.6 341.5,349.9C343.2,349.2 345.3,348.4 347.2,347.8C349.0,347.2 351.7,346.8 352.6,346.6" stroke="#6e6e6e" stroke-width="1.10" fill="none"/>
<ellipse cx="288.8" cy="345.6" rx="5.7" ry="24.2" fill="none" stroke="#222" stroke-width="0.7" stroke-dasharray="2,1.4"/>
<ellipse cx="302.9" cy="345.6" rx="5.7" ry="24.2" fill="none" stroke="#222" stroke-width="0.7" stroke-dasharray="2,1.4"/>
<line x1="288.8" y1="337.4" x2="288.8" y2="325.9" stroke="#f02828" stroke-width="1.50"/><polygon points="288.8,322.8 286.5,327.2 291.1,327.2" fill="#f02828"/>
<line x1="302.9" y1="323.4" x2="302.9" y2="334.5" stroke="#1414f0" stroke-width="1.50"/><polygon points="302.9,337.6 300.6,333.2 305.2,333.2" fill="#1414f0"/>
<line x1="288.8" y1="355.4" x2="288.8" y2="366.1" stroke="#1414f0" stroke-width="1.50"/><polygon points="288.8,369.2 286.5,364.8 291.1,364.8" fill="#1414f0"/>
<line x1="302.9" y1="369.2" x2="302.9" y2="357.5" stroke="#f02828" stroke-width="1.50"/><polygon points="302.9,354.4 300.6,358.8 305.2,358.8" fill="#f02828"/>
<path d="M352.8,316L372.6,313.8M352.8,346.8L372.6,349.2" stroke="#333" stroke-width="0.7" stroke-dasharray="2,1.5" fill="none"/>
<path d="M372.8,313.7H467.4" stroke="#f02828" stroke-width="1.30" fill="none"/><path d="M372.8,313.7C373.6,313.8 375.8,313.8 377.3,314.1C378.8,314.4 380.3,314.7 381.8,315.3C383.3,315.9 384.8,316.7 386.3,317.5C387.8,318.3 389.3,319.3 390.7,320.2C392.2,321.1 393.8,322.1 395.2,323.0C396.7,323.9 398.3,324.9 399.7,325.6C401.0,326.3 402.2,326.9 403.4,327.4C404.5,327.9 405.4,328.2 406.6,328.6C407.7,329.0 409.0,329.3 410.4,329.7C411.7,330.1 413.3,330.4 414.6,330.7C415.9,331.0 417.2,331.3 418.4,331.7C419.6,332.1 420.8,332.6 422.0,333.1C423.2,333.6 424.3,334.0 425.4,334.5C426.5,335.0 427.4,335.2 428.7,336.2C430.1,337.2 431.8,339.1 433.4,340.5C435.0,341.9 436.9,343.6 438.4,344.9C440.0,346.2 441.4,347.4 442.9,348.5C444.5,349.6 446.5,350.9 448.0,351.8C449.5,352.7 450.6,353.3 452.0,353.9C453.4,354.5 454.7,355.0 456.4,355.6C458.0,356.2 460.2,356.9 462.0,357.3C463.8,357.7 466.5,358.1 467.4,358.2" stroke="#f02828" stroke-width="1.30" fill="none"/><path d="M372.8,358.2C373.6,358.1 375.8,358.0 377.3,357.7C378.8,357.4 380.3,356.9 381.8,356.3C383.3,355.7 384.8,355.1 386.3,354.3C387.8,353.6 389.3,352.7 390.7,351.8C392.2,350.9 393.8,349.9 395.2,349.0C396.7,348.1 398.3,347.1 399.7,346.4C401.0,345.7 402.2,345.1 403.4,344.6C404.5,344.1 405.4,343.7 406.6,343.4C407.7,343.1 409.0,342.9 410.4,342.7C411.7,342.5 413.3,342.3 414.6,342.0C415.9,341.7 417.2,341.4 418.4,341.0C419.6,340.6 420.8,340.1 422.0,339.6C423.2,339.1 424.3,338.6 425.4,338.0C426.5,337.4 427.4,337.2 428.7,336.2C430.1,335.2 431.8,333.3 433.4,331.9C435.0,330.5 436.9,329.0 438.4,327.7C440.0,326.4 441.4,325.4 442.9,324.3C444.5,323.2 446.5,322.0 448.0,321.1C449.5,320.2 450.6,319.6 452.0,318.9C453.4,318.2 454.7,317.7 456.4,317.0C458.0,316.3 460.2,315.4 462.0,314.9C463.8,314.3 466.5,313.9 467.4,313.7" stroke="#f02828" stroke-width="1.30" fill="none"/>
<path d="M372.8,349.6H467.4" stroke="#1414f0" stroke-width="1.30" fill="none"/><path d="M372.8,349.6C373.6,349.7 375.8,349.7 377.3,350.0C378.8,350.3 380.3,350.6 381.8,351.2C383.3,351.8 384.8,352.6 386.3,353.4C387.8,354.2 389.3,355.2 390.7,356.1C392.2,357.0 393.8,358.0 395.2,358.9C396.7,359.8 398.3,360.8 399.7,361.5C401.0,362.2 402.2,362.8 403.4,363.3C404.5,363.8 405.4,364.1 406.6,364.5C407.7,364.9 409.0,365.2 410.4,365.6C411.7,366.0 413.3,366.3 414.6,366.6C415.9,366.9 417.2,367.2 418.4,367.6C419.6,368.0 420.8,368.5 422.0,369.0C423.2,369.5 424.3,369.9 425.4,370.4C426.5,370.9 427.4,371.1 428.7,372.1C430.1,373.1 431.8,375.0 433.4,376.4C435.0,377.9 436.9,379.5 438.4,380.8C440.0,382.1 441.4,383.2 442.9,384.4C444.5,385.6 446.5,386.8 448.0,387.7C449.5,388.6 450.6,389.2 452.0,389.8C453.4,390.4 454.7,390.9 456.4,391.5C458.0,392.1 460.2,392.8 462.0,393.2C463.8,393.6 466.5,394.0 467.4,394.1" stroke="#1414f0" stroke-width="1.30" fill="none"/><path d="M372.8,394.1C373.6,394.0 375.8,393.9 377.3,393.6C378.8,393.3 380.3,392.8 381.8,392.2C383.3,391.6 384.8,391.0 386.3,390.2C387.8,389.5 389.3,388.6 390.7,387.7C392.2,386.8 393.8,385.8 395.2,384.9C396.7,384.0 398.3,383.0 399.7,382.3C401.0,381.6 402.2,381.0 403.4,380.5C404.5,380.0 405.4,379.6 406.6,379.3C407.7,379.0 409.0,378.8 410.4,378.6C411.7,378.4 413.3,378.2 414.6,377.9C415.9,377.6 417.2,377.3 418.4,376.9C419.6,376.5 420.8,376.0 422.0,375.5C423.2,375.0 424.3,374.5 425.4,373.9C426.5,373.3 427.4,373.1 428.7,372.1C430.1,371.1 431.8,369.2 433.4,367.8C435.0,366.4 436.9,364.9 438.4,363.6C440.0,362.3 441.4,361.3 442.9,360.2C444.5,359.1 446.5,357.9 448.0,357.0C449.5,356.1 450.6,355.5 452.0,354.8C453.4,354.1 454.7,353.6 456.4,352.9C458.0,352.2 460.2,351.4 462.0,350.8C463.8,350.2 466.5,349.8 467.4,349.6" stroke="#1414f0" stroke-width="1.30" fill="none"/>
<line x1="410.7" y1="334.6" x2="410.7" y2="323.9" stroke="#f02828" stroke-width="1.50"/><polygon points="410.7,320.8 408.4,325.2 413.0,325.2" fill="#f02828"/>
<line x1="410.1" y1="358.8" x2="410.1" y2="368.9" stroke="#1414f0" stroke-width="1.50"/><polygon points="410.1,372.0 407.8,367.6 412.4,367.6" fill="#1414f0"/>
</g>
<g id="panelJ">
<defs><linearGradient id="jg" x1="0" y1="0" x2="1" y2="0"><stop offset="0" stop-color="#1cf088"/><stop offset="0.45" stop-color="#10a0a8"/><stop offset="0.75" stop-color="#0c40d8"/><stop offset="1" stop-color="#0c0ce8"/></linearGradient></defs>
<text class="lb" x="498.6" y="292.4">j</text>
<rect x="519.8" y="296" width="155.6" height="3.3" fill="url(#jg)"/>
<text x="522.8" y="290.8" font-size="8.3" fill="#14a84a" class="i">D<tspan font-size="4.6" dy="1.5" font-style="normal">flat</tspan><tspan dy="-1.5"> &lt; U &lt; D</tspan><tspan font-size="4.6" dy="1.5" font-style="normal">wide</tspan></text>
<text x="641" y="290.8" font-size="8.3" fill="#1c1cd8" class="i">U &gt; D<tspan font-size="4.6" dy="1.5" font-style="normal">wide</tspan></text>
<path d="M550.9,307.7L516.6,367.1L585.2,367.1ZM550.9,386.9L516.6,327.5L585.2,327.5Z" stroke="#4a4a4a" stroke-width="0.8" fill="none"/>
<circle cx="539.5" cy="327.5" r="5.7" fill="#f8b040"/>
<circle cx="562.4" cy="327.5" r="5.7" fill="#1414e0"/>
<circle cx="527.9" cy="347.3" r="5.7" fill="#1414e0"/>
<circle cx="573.9" cy="347.3" r="5.7" fill="#f8b040"/>
<circle cx="539.5" cy="367.1" r="5.7" fill="#f8b040"/>
<circle cx="562.4" cy="367.1" r="5.7" fill="#1414e0"/>
<circle cx="550.9" cy="307.7" r="2.1" fill="#8e2a92"/>
<circle cx="516.6" cy="327.5" r="2.1" fill="#16a04a"/>
<circle cx="585.2" cy="327.5" r="2.1" fill="#16a04a"/>
<circle cx="516.6" cy="367.1" r="2.1" fill="#8e2a92"/>
<circle cx="585.2" cy="367.1" r="2.1" fill="#8e2a92"/>
<circle cx="550.9" cy="386.9" r="2.1" fill="#16a04a"/>
<line x1="555.4" y1="354.4" x2="549.1" y2="343.9" stroke="#1414e0" stroke-width="1.60"/><polygon points="547.4,341.1 551.7,343.9 547.9,346.2" fill="#1414e0"/>
<path d="M646.6,308.6L611.3,367.1L681.9,367.1ZM646.6,386.6L611.3,328.1L681.9,328.1Z" stroke="#4a4a4a" stroke-width="0.8" fill="none"/>
<line x1="649.9" y1="313.4" x2="645.7" y2="305.3" stroke="#1414e0" stroke-width="1.50"/><polygon points="644.2,302.4 648.3,305.5 644.4,307.5" fill="#1414e0"/>
<line x1="649.9" y1="391.4" x2="645.7" y2="383.3" stroke="#1414e0" stroke-width="1.50"/><polygon points="644.2,380.4 648.3,383.5 644.4,385.5" fill="#1414e0"/>
<line x1="614.6" y1="332.9" x2="610.4" y2="324.8" stroke="#1414e0" stroke-width="1.50"/><polygon points="608.9,321.9 613.0,325.0 609.1,327.0" fill="#1414e0"/>
<line x1="685.2" y1="332.9" x2="681.0" y2="324.8" stroke="#1414e0" stroke-width="1.50"/><polygon points="679.5,321.9 683.6,325.0 679.7,327.0" fill="#1414e0"/>
<line x1="614.6" y1="371.9" x2="610.4" y2="363.8" stroke="#1414e0" stroke-width="1.50"/><polygon points="608.9,360.9 613.0,364.0 609.1,366.0" fill="#1414e0"/>
<line x1="685.2" y1="371.9" x2="681.0" y2="363.8" stroke="#1414e0" stroke-width="1.50"/><polygon points="679.5,360.9 683.6,364.0 679.7,366.0" fill="#1414e0"/>
<line x1="638.1" y1="332.9" x2="633.9" y2="324.8" stroke="#1414e0" stroke-width="1.50"/><polygon points="632.4,321.9 636.5,325.0 632.6,327.0" fill="#1414e0"/>
<line x1="661.7" y1="332.9" x2="657.5" y2="324.8" stroke="#1414e0" stroke-width="1.50"/><polygon points="656.0,321.9 660.1,325.0 656.2,327.0" fill="#1414e0"/>
<line x1="626.4" y1="352.4" x2="622.2" y2="344.3" stroke="#1414e0" stroke-width="1.50"/><polygon points="620.7,341.4 624.8,344.5 620.9,346.5" fill="#1414e0"/>
<line x1="673.4" y1="352.4" x2="669.2" y2="344.3" stroke="#1414e0" stroke-width="1.50"/><polygon points="667.7,341.4 671.8,344.5 667.9,346.5" fill="#1414e0"/>
<line x1="638.1" y1="371.9" x2="633.9" y2="363.8" stroke="#1414e0" stroke-width="1.50"/><polygon points="632.4,360.9 636.5,364.0 632.6,366.0" fill="#1414e0"/>
<line x1="661.7" y1="371.9" x2="657.5" y2="363.8" stroke="#1414e0" stroke-width="1.50"/><polygon points="656.0,360.9 660.1,364.0 656.2,366.0" fill="#1414e0"/>
<text x="505" y="399.9" font-size="8" fill="#222" textLength="94.2" lengthAdjust="spacingAndGlyphs">compact molecular orbital</text>
<text x="622.6" y="399.9" font-size="8" fill="#222" textLength="53" lengthAdjust="spacingAndGlyphs">atomic orbitals</text>
</g>
</svg>
</body></html>
